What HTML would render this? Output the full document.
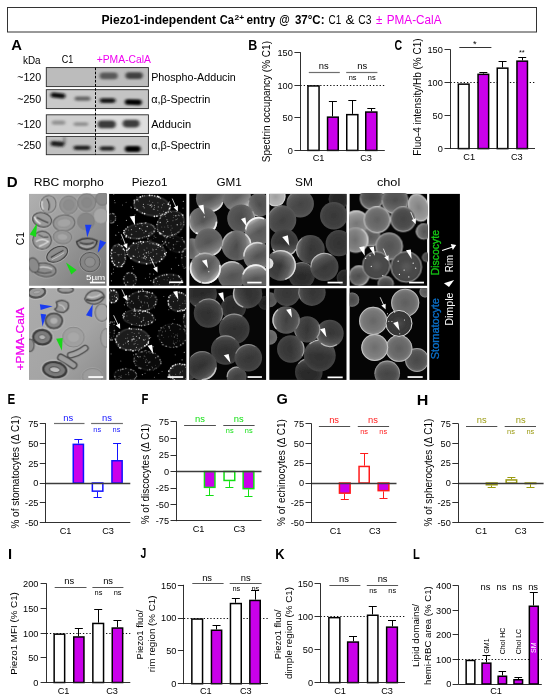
<!DOCTYPE html>
<html lang="en"><head><meta charset="utf-8"><title>Piezo1-independent Ca2+ entry</title>
<style>
html,body{margin:0;padding:0;background:#fff;}
svg{display:block;font-family:'Liberation Sans',sans-serif;}
svg text{font-family:'Liberation Sans',sans-serif;}
</style></head>
<body>
<svg width="550" height="700" viewBox="0 0 550 700">
<rect x="0" y="0" width="550" height="700" fill="#fff"/>
<rect x="7.50" y="7.50" width="529.00" height="24.50" fill="#fff" stroke="#333" stroke-width="1"/>
<text x="101.50" y="24.30" font-size="12.2" text-anchor="start" fill="#000" font-weight="bold" textLength="114.50" lengthAdjust="spacingAndGlyphs">Piezo1-independent</text>
<text x="219.80" y="24.30" font-size="12.2" text-anchor="start" fill="#000" font-weight="bold" textLength="14.20" lengthAdjust="spacingAndGlyphs">Ca</text>
<text x="234.60" y="19.70" font-size="7.6" text-anchor="start" fill="#000" font-weight="bold" textLength="9.60" lengthAdjust="spacingAndGlyphs">2+</text>
<text x="246.50" y="24.30" font-size="12.2" text-anchor="start" fill="#000" font-weight="bold" textLength="28.80" lengthAdjust="spacingAndGlyphs">entry</text>
<text x="279.20" y="24.30" font-size="12.2" text-anchor="start" fill="#000" font-weight="bold" textLength="10.50" lengthAdjust="spacingAndGlyphs">@</text>
<text x="294.90" y="24.30" font-size="12.2" text-anchor="start" fill="#000" font-weight="bold" textLength="29.60" lengthAdjust="spacingAndGlyphs">37°C:</text>
<text x="328.50" y="24.30" font-size="12.2" text-anchor="start" fill="#000" textLength="12.70" lengthAdjust="spacingAndGlyphs">C1</text>
<text x="345.50" y="24.30" font-size="12.2" text-anchor="start" fill="#000" textLength="9.00" lengthAdjust="spacingAndGlyphs">&amp;</text>
<text x="358.30" y="24.30" font-size="12.2" text-anchor="start" fill="#000" textLength="13.20" lengthAdjust="spacingAndGlyphs">C3</text>
<text x="376.10" y="24.30" font-size="12.2" text-anchor="start" fill="#f000f0" textLength="6.30" lengthAdjust="spacingAndGlyphs">±</text>
<text x="386.80" y="24.30" font-size="12.2" text-anchor="start" fill="#f000f0" textLength="54.70" lengthAdjust="spacingAndGlyphs">PMA-CalA</text>
<text x="11.20" y="49.70" font-size="14.7" text-anchor="start" fill="#000" font-weight="bold" textLength="10.70" lengthAdjust="spacingAndGlyphs">A</text>
<text x="248.30" y="49.50" font-size="14.7" text-anchor="start" fill="#000" font-weight="bold" textLength="9.00" lengthAdjust="spacingAndGlyphs">B</text>
<text x="394.50" y="49.50" font-size="14.7" text-anchor="start" fill="#000" font-weight="bold" textLength="7.60" lengthAdjust="spacingAndGlyphs">C</text>
<text x="6.80" y="186.90" font-size="14.7" text-anchor="start" fill="#000" font-weight="bold" textLength="10.90" lengthAdjust="spacingAndGlyphs">D</text>
<text x="7.50" y="403.70" font-size="14.7" text-anchor="start" fill="#000" font-weight="bold" textLength="7.70" lengthAdjust="spacingAndGlyphs">E</text>
<text x="141.40" y="403.70" font-size="14.7" text-anchor="start" fill="#000" font-weight="bold" textLength="6.90" lengthAdjust="spacingAndGlyphs">F</text>
<text x="276.60" y="404.00" font-size="14.7" text-anchor="start" fill="#000" font-weight="bold" textLength="11.30" lengthAdjust="spacingAndGlyphs">G</text>
<text x="416.80" y="404.50" font-size="14.7" text-anchor="start" fill="#000" font-weight="bold" textLength="11.60" lengthAdjust="spacingAndGlyphs">H</text>
<text x="7.90" y="558.80" font-size="14.7" text-anchor="start" fill="#000" font-weight="bold">I</text>
<text x="140.60" y="558.40" font-size="14.7" text-anchor="start" fill="#000" font-weight="bold" textLength="5.80" lengthAdjust="spacingAndGlyphs">J</text>
<text x="275.30" y="559.00" font-size="14.7" text-anchor="start" fill="#000" font-weight="bold" textLength="9.30" lengthAdjust="spacingAndGlyphs">K</text>
<text x="413.00" y="559.00" font-size="14.7" text-anchor="start" fill="#000" font-weight="bold" textLength="6.80" lengthAdjust="spacingAndGlyphs">L</text>
<defs><filter id="bl1" x="-30%" y="-60%" width="160%" height="220%"><feGaussianBlur stdDeviation="1.5 1.1"/></filter><filter id="bl05" x="-30%" y="-60%" width="160%" height="220%"><feGaussianBlur stdDeviation="0.7"/></filter></defs>
<text x="23.00" y="64.40" font-size="10.4" text-anchor="start" fill="#000" textLength="17.60" lengthAdjust="spacingAndGlyphs">kDa</text>
<text x="61.80" y="62.60" font-size="10.4" text-anchor="start" fill="#000" textLength="11.50" lengthAdjust="spacingAndGlyphs">C1</text>
<text x="96.70" y="62.60" font-size="10.4" text-anchor="start" fill="#f000f0" textLength="54.30" lengthAdjust="spacingAndGlyphs">+PMA-CalA</text>
<clipPath id="cb0"><rect x="46.3" y="67.6" width="102.10" height="19.00"/></clipPath>
<rect x="46.30" y="67.60" width="102.10" height="19.00" fill="#bcbcbc" stroke="none" stroke-width="1"/>
<g clip-path="url(#cb0)">
<rect x="96.00" y="67.60" width="52.40" height="19.00" fill="#bcbcbc" stroke="none" stroke-width="1"/>
<g filter="url(#bl1)">
<rect x="99.70" y="72.60" width="18.00" height="6.60" rx="3.30" fill="#4c4c4c" opacity="0.9"/>
<rect x="125.50" y="72.20" width="17.30" height="6.80" rx="3.40" fill="#3a3a3a" opacity="0.95"/>
</g></g>
<rect x="46.30" y="67.60" width="102.10" height="19.00" fill="none" stroke="#2a2a2a" stroke-width="0.9"/>
<text x="17.20" y="80.70" font-size="10.4" text-anchor="start" fill="#000" textLength="24.00" lengthAdjust="spacingAndGlyphs">~120</text>
<text x="151.20" y="80.50" font-size="10.4" text-anchor="start" fill="#000" textLength="84.60" lengthAdjust="spacingAndGlyphs">Phospho-Adducin</text>
<clipPath id="cb1"><rect x="46.3" y="89.7" width="102.10" height="18.90"/></clipPath>
<rect x="46.30" y="89.70" width="102.10" height="18.90" fill="#c9c9c9" stroke="none" stroke-width="1"/>
<g clip-path="url(#cb1)">
<rect x="96.00" y="89.70" width="52.40" height="18.90" fill="#c4c4c4" stroke="none" stroke-width="1"/>
<g filter="url(#bl1)">
<rect x="50.60" y="92.90" width="14.80" height="5.10" rx="2.55" fill="#101010" opacity="1" transform="rotate(6 58.0 95.4)"/>
<rect x="74.60" y="96.60" width="15.90" height="4.10" rx="2.05" fill="#5a5a5a" opacity="0.9"/>
<rect x="99.70" y="98.20" width="15.90" height="4.80" rx="2.40" fill="#161616" opacity="1"/>
<rect x="124.80" y="99.40" width="17.00" height="5.60" rx="2.80" fill="#050505" opacity="1" transform="rotate(2 133.3 102.2)"/>
</g></g>
<rect x="46.30" y="89.70" width="102.10" height="18.90" fill="none" stroke="#2a2a2a" stroke-width="0.9"/>
<text x="17.20" y="102.75" font-size="10.4" text-anchor="start" fill="#000" textLength="24.00" lengthAdjust="spacingAndGlyphs">~250</text>
<text x="151.20" y="102.55" font-size="10.4" text-anchor="start" fill="#000" textLength="59.20" lengthAdjust="spacingAndGlyphs">α,β-Spectrin</text>
<clipPath id="cb2"><rect x="46.3" y="114.8" width="102.10" height="18.80"/></clipPath>
<rect x="46.30" y="114.80" width="102.10" height="18.80" fill="#d0d0d0" stroke="none" stroke-width="1"/>
<g clip-path="url(#cb2)">
<rect x="96.00" y="114.80" width="52.40" height="18.80" fill="#dedede" stroke="none" stroke-width="1"/>
<g filter="url(#bl1)">
<rect x="51.70" y="120.60" width="13.70" height="4.10" rx="2.05" fill="#8c8c8c" opacity="0.9"/>
<rect x="73.50" y="122.20" width="14.80" height="3.70" rx="1.85" fill="#8a8a8a" opacity="0.9"/>
<rect x="97.60" y="120.40" width="18.20" height="7.80" rx="3.90" fill="#3a3a3a" opacity="1"/>
<rect x="122.60" y="119.80" width="17.00" height="7.60" rx="3.80" fill="#3c3c3c" opacity="1"/>
</g></g>
<rect x="46.30" y="114.80" width="102.10" height="18.80" fill="none" stroke="#2a2a2a" stroke-width="0.9"/>
<text x="17.20" y="127.80" font-size="10.4" text-anchor="start" fill="#000" textLength="24.00" lengthAdjust="spacingAndGlyphs">~120</text>
<text x="151.20" y="127.60" font-size="10.4" text-anchor="start" fill="#000" textLength="40.00" lengthAdjust="spacingAndGlyphs">Adducin</text>
<clipPath id="cb3"><rect x="46.3" y="136.4" width="102.10" height="18.30"/></clipPath>
<rect x="46.30" y="136.40" width="102.10" height="18.30" fill="#c0c0c0" stroke="none" stroke-width="1"/>
<g clip-path="url(#cb3)">
<rect x="96.00" y="136.40" width="52.40" height="18.30" fill="#c6c6c6" stroke="none" stroke-width="1"/>
<g filter="url(#bl1)">
<rect x="50.60" y="141.30" width="13.70" height="5.10" rx="2.55" fill="#1a1a1a" opacity="1" transform="rotate(5 57.4 143.8)"/>
<rect x="73.50" y="145.70" width="17.00" height="4.30" rx="2.15" fill="#1c1c1c" opacity="1"/>
<rect x="99.70" y="146.40" width="14.80" height="4.00" rx="2.00" fill="#1c1c1c" opacity="1"/>
<rect x="124.80" y="146.10" width="15.90" height="5.90" rx="2.95" fill="#060606" opacity="1"/>
<rect x="63.6" y="137" width="1.6" height="7" fill="#333" opacity="0.8"/>
</g></g>
<rect x="46.30" y="136.40" width="102.10" height="18.30" fill="none" stroke="#2a2a2a" stroke-width="0.9"/>
<text x="17.20" y="149.15" font-size="10.4" text-anchor="start" fill="#000" textLength="24.00" lengthAdjust="spacingAndGlyphs">~250</text>
<text x="151.20" y="148.95" font-size="10.4" text-anchor="start" fill="#000" textLength="59.20" lengthAdjust="spacingAndGlyphs">α,β-Spectrin</text>
<line x1="95.50" y1="67.60" x2="95.50" y2="154.70" stroke="#000" stroke-width="1.0" stroke-dasharray="2.6 1.5"/>
<text x="33.80" y="186.40" font-size="11.2" text-anchor="start" fill="#000" textLength="70.00" lengthAdjust="spacingAndGlyphs">RBC morpho</text>
<text x="131.80" y="186.00" font-size="11.2" text-anchor="start" fill="#000" textLength="35.60" lengthAdjust="spacingAndGlyphs">Piezo1</text>
<text x="216.40" y="186.00" font-size="11.2" text-anchor="start" fill="#000" textLength="25.40" lengthAdjust="spacingAndGlyphs">GM1</text>
<text x="295.00" y="186.00" font-size="11.2" text-anchor="start" fill="#000" textLength="17.80" lengthAdjust="spacingAndGlyphs">SM</text>
<text x="376.90" y="186.00" font-size="11.2" text-anchor="start" fill="#000" textLength="23.40" lengthAdjust="spacingAndGlyphs">chol</text>
<text x="23.60" y="238.60" font-size="11.6" text-anchor="middle" fill="#000" transform="rotate(-90 23.60 238.60)" textLength="13.20" lengthAdjust="spacingAndGlyphs">C1</text>
<text x="23.60" y="338.90" font-size="11.6" text-anchor="middle" fill="#f000f0" transform="rotate(-90 23.60 338.90)" textLength="63.00" lengthAdjust="spacingAndGlyphs" stroke="#f000f0" stroke-width="0.25">+PMA-CalA</text>
<rect x="429.30" y="193.90" width="30.60" height="186.10" fill="#000" stroke="none" stroke-width="1"/>
<text x="439.00" y="275.30" font-size="10.6" text-anchor="start" fill="#14c814" transform="rotate(-90 439.00 275.30)" textLength="45.30" lengthAdjust="spacingAndGlyphs" stroke="#14c814" stroke-width="0.35">Discocyte</text>
<text x="439.00" y="359.20" font-size="10.6" text-anchor="start" fill="#0a6fc8" transform="rotate(-90 439.00 359.20)" textLength="61.00" lengthAdjust="spacingAndGlyphs" stroke="#0a6fc8" stroke-width="0.35">Stomatocyte</text>
<text x="452.80" y="272.20" font-size="10.4" text-anchor="start" fill="#fff" transform="rotate(-90 452.80 272.20)" textLength="17.20" lengthAdjust="spacingAndGlyphs">Rim</text>
<text x="452.80" y="325.80" font-size="10.4" text-anchor="start" fill="#fff" transform="rotate(-90 452.80 325.80)" textLength="33.40" lengthAdjust="spacingAndGlyphs">Dimple</text>
<line x1="442.10" y1="250.60" x2="452.60" y2="247.00" stroke="#fff" stroke-width="1.1"/>
<polygon points="456.2,245.0 450.8,244.0 452.8,250.0" fill="#fff"/>
<polygon points="443.9,283.3 449.0,286.9 454.1,279.9" fill="#fff"/>
<defs><filter id="fb3" x="-20%" y="-20%" width="140%" height="140%"><feGaussianBlur stdDeviation="4.3"/></filter><filter id="fb5" x="-20%" y="-20%" width="140%" height="140%"><feGaussianBlur stdDeviation="5"/></filter><filter id="fb2" x="-20%" y="-20%" width="140%" height="140%"><feGaussianBlur stdDeviation="2"/></filter><filter id="fb8" x="-20%" y="-20%" width="140%" height="140%"><feGaussianBlur stdDeviation="7"/></filter><radialGradient id="gc"><stop offset="0" stop-color="#000" stop-opacity="0.16"/><stop offset="0.6" stop-color="#000" stop-opacity="0.04"/><stop offset="0.88" stop-color="#fff" stop-opacity="0.10"/><stop offset="1" stop-color="#fff" stop-opacity="0.28"/></radialGradient><linearGradient id="lg" x1="0" y1="0" x2="1" y2="0"><stop offset="0" stop-color="#fff" stop-opacity="0"/><stop offset="0.5" stop-color="#fff" stop-opacity="0"/><stop offset="0.8" stop-color="#fff" stop-opacity="0.22"/><stop offset="0.93" stop-color="#fff" stop-opacity="0.5"/><stop offset="1" stop-color="#fff" stop-opacity="0.8"/></linearGradient><radialGradient id="gs"><stop offset="0" stop-color="#000" stop-opacity="0.14"/><stop offset="0.65" stop-color="#000" stop-opacity="0.03"/><stop offset="1" stop-color="#fff" stop-opacity="0.07"/></radialGradient><radialGradient id="gd"><stop offset="0" stop-color="#fff" stop-opacity="0.10"/><stop offset="0.55" stop-color="#fff" stop-opacity="0.0"/><stop offset="0.85" stop-color="#000" stop-opacity="0.04"/><stop offset="1" stop-color="#fff" stop-opacity="0.05"/></radialGradient><linearGradient id="bg1" x1="0" y1="0" x2="1" y2="1"><stop offset="0" stop-color="#b0b0b0"/><stop offset="0.5" stop-color="#989898"/><stop offset="1" stop-color="#767676"/></linearGradient><linearGradient id="bg2" x1="0" y1="0" x2="1" y2="1"><stop offset="0" stop-color="#acacac"/><stop offset="0.6" stop-color="#a4a4a4"/><stop offset="1" stop-color="#8c8c8c"/></linearGradient></defs>
<clipPath id="cp00"><rect x="29.0" y="193.9" width="77.50" height="91.90"/></clipPath>
<rect x="29.00" y="193.90" width="77.50" height="91.90" fill="url(#bg1)" stroke="none" stroke-width="1"/>
<g clip-path="url(#cp00)"><g transform="translate(25 190) scale(0.15637)">
<g filter="url(#fb5)">
<ellipse cx="150" cy="90" rx="50" ry="56" fill="#a2a2a2" stroke="#5c5c5c" stroke-width="6" transform="rotate(10 150 90)"/>
<ellipse cx="150" cy="90" rx="56" ry="62" fill="none" stroke="#e0e0e0" stroke-opacity="0.5" stroke-width="4" transform="rotate(10 150 90)"/>
<path d="M140 55 Q165 90 150 130" fill="none" stroke="#3c3c3c" stroke-width="7"/>
<path d="M112 70 Q100 95 118 125" fill="none" stroke="#e2e2e2" stroke-width="9"/>
<ellipse cx="280" cy="95" rx="58" ry="58" fill="#939393" stroke="#777" stroke-width="6"/>
<ellipse cx="280" cy="95" rx="64" ry="64" fill="none" stroke="#e0e0e0" stroke-opacity="0.3" stroke-width="4"/>
<ellipse cx="280" cy="95" rx="34" ry="34" fill="#8c8c8c" stroke="#858585" stroke-width="3"/>
<ellipse cx="395" cy="80" rx="58" ry="58" fill="#8e8e8e" stroke="#747474" stroke-width="6"/>
<ellipse cx="395" cy="80" rx="64" ry="64" fill="none" stroke="#e0e0e0" stroke-opacity="0.3" stroke-width="4"/>
<ellipse cx="395" cy="80" rx="32" ry="32" fill="#888" stroke="#808080" stroke-width="3"/>
<ellipse cx="495" cy="55" rx="42" ry="42" fill="#8a8a8a" stroke="#707070" stroke-width="5"/>
<ellipse cx="485" cy="165" rx="48" ry="50" fill="#a8a8a8" stroke="#8a8a8a" stroke-width="4"/>
<ellipse cx="110" cy="190" rx="62" ry="46" fill="#9a9a9a" stroke="#3e3e3e" stroke-width="7" transform="rotate(15 110 190)"/>
<ellipse cx="110" cy="190" rx="69" ry="53" fill="none" stroke="#e0e0e0" stroke-opacity="0.5" stroke-width="4" transform="rotate(15 110 190)"/>
<path d="M75 175 Q110 195 150 210" fill="none" stroke="#3a3a3a" stroke-width="7"/>
<path d="M60 170 Q70 200 100 215" fill="none" stroke="#e8e8e8" stroke-width="9"/>
<ellipse cx="250" cy="210" rx="70" ry="52" fill="#989898" stroke="#666" stroke-width="7" transform="rotate(-5 250 210)"/>
<ellipse cx="250" cy="210" rx="77" ry="59" fill="none" stroke="#e0e0e0" stroke-opacity="0.3" stroke-width="4" transform="rotate(-5 250 210)"/>
<ellipse cx="250" cy="210" rx="45" ry="28" fill="#a4a4a4" stroke="#858585" stroke-width="3" transform="rotate(-5 250 210)"/>
<ellipse cx="390" cy="200" rx="54" ry="54" fill="#868686" stroke="#7a7a7a" stroke-width="4"/>
<ellipse cx="110" cy="320" rx="60" ry="58" fill="#9c9c9c" stroke="#484848" stroke-width="7"/>
<ellipse cx="110" cy="320" rx="67" ry="65" fill="none" stroke="#e0e0e0" stroke-opacity="0.5" stroke-width="4"/>
<path d="M70 330 Q110 300 150 330 Q120 350 90 360" fill="none" stroke="#e0e0e0" stroke-width="9"/>
<path d="M85 285 Q120 310 150 300" fill="none" stroke="#444" stroke-width="6"/>
<ellipse cx="240" cy="300" rx="60" ry="44" fill="#969696" stroke="#707070" stroke-width="6" transform="rotate(5 240 300)"/>
<ellipse cx="240" cy="300" rx="66" ry="50" fill="none" stroke="#e0e0e0" stroke-opacity="0.3" stroke-width="4" transform="rotate(5 240 300)"/>
<ellipse cx="240" cy="300" rx="34" ry="22" fill="#a6a6a6" stroke="#8a8a8a" stroke-width="3" transform="rotate(5 240 300)"/>
<path d="M330 330 Q395 290 462 325 Q455 375 395 380 Q335 375 330 330Z" fill="#8a8a8a" stroke="#262626" stroke-width="8"/>
<path d="M350 335 Q395 355 440 335" fill="none" stroke="#2c2c2c" stroke-width="7"/>
<path d="M352 352 Q395 375 438 352" fill="none" stroke="#c8c8c8" stroke-width="6"/>
<ellipse cx="205" cy="410" rx="72" ry="44" fill="#8e8e8e" stroke="#3c3c3c" stroke-width="7" transform="rotate(-28 205 410)"/>
<ellipse cx="205" cy="410" rx="79" ry="51" fill="none" stroke="#e0e0e0" stroke-opacity="0.45" stroke-width="4" transform="rotate(-28 205 410)"/>
<path d="M165 430 Q205 405 245 385" fill="none" stroke="#3a3a3a" stroke-width="7"/>
<path d="M170 445 Q215 425 250 400" fill="none" stroke="#cfcfcf" stroke-width="6"/>
<ellipse cx="415" cy="460" rx="64" ry="62" fill="#858585" stroke="#4e4e4e" stroke-width="6"/>
<ellipse cx="415" cy="460" rx="70" ry="68" fill="none" stroke="#e0e0e0" stroke-opacity="0.35" stroke-width="4"/>
<ellipse cx="415" cy="460" rx="34" ry="32" fill="#8f8f8f" stroke="#6c6c6c" stroke-width="6"/>
<ellipse cx="125" cy="510" rx="75" ry="44" fill="#8c8c8c" stroke="#4a4a4a" stroke-width="7" transform="rotate(8 125 510)"/>
<ellipse cx="125" cy="510" rx="82" ry="51" fill="none" stroke="#e0e0e0" stroke-opacity="0.4" stroke-width="4" transform="rotate(8 125 510)"/>
<path d="M75 500 Q120 480 175 505" fill="none" stroke="#d8d8d8" stroke-width="8"/>
<path d="M80 525 Q125 540 170 525" fill="none" stroke="#444" stroke-width="6"/>
<ellipse cx="55" cy="480" rx="34" ry="48" fill="#8a8a8a" stroke="#4c4c4c" stroke-width="6" transform="rotate(-20 55 480)"/>
</g>
<polygon points="30,285 70,300 77,213" fill="#18d818"/>
<polygon points="330,512 296,541 262,464" fill="#18d818"/>
<polygon points="384,222 426,222 398,302" fill="#1a3cf0"/>
<polygon points="479,320 519,336 465,401" fill="#1a3cf0"/>
<text x="452" y="576" font-size="46" text-anchor="middle" fill="#fff" textLength="124" lengthAdjust="spacingAndGlyphs">5µm</text>
<rect x="415" y="586.5" width="97" height="11" fill="#fff"/>
</g></g>
<clipPath id="cp01"><rect x="109.1" y="193.9" width="77.30" height="91.90"/></clipPath>
<rect x="109.10" y="193.90" width="77.30" height="91.90" fill="#000" stroke="none" stroke-width="1"/>
<g clip-path="url(#cp01)"><g transform="translate(105 190) scale(0.15637)">
<g filter="url(#fb5)">
<ellipse cx="300" cy="100" rx="116" ry="64" fill="#fff" fill-opacity="0.110" stroke="#fff" stroke-opacity="0.160" stroke-width="10" transform="rotate(8 300 100)"/>
<ellipse cx="420" cy="215" rx="92" ry="74" fill="#fff" fill-opacity="0.089" stroke="#fff" stroke-opacity="0.130" stroke-width="10" transform="rotate(-35 420 215)"/>
<ellipse cx="222" cy="262" rx="100" ry="48" fill="#fff" fill-opacity="0.099" stroke="#fff" stroke-opacity="0.144" stroke-width="10" transform="rotate(-8 222 262)"/>
<ellipse cx="265" cy="400" rx="122" ry="70" fill="#fff" fill-opacity="0.110" stroke="#fff" stroke-opacity="0.160" stroke-width="10" transform="rotate(4 265 400)"/>
<ellipse cx="85" cy="420" rx="46" ry="72" fill="#fff" fill-opacity="0.099" stroke="#fff" stroke-opacity="0.144" stroke-width="10" transform="rotate(-5 85 420)"/>
<ellipse cx="452" cy="345" rx="72" ry="48" fill="#fff" fill-opacity="0.040" stroke="#fff" stroke-opacity="0.058" stroke-width="10" transform="rotate(30 452 345)"/>
<ellipse cx="400" cy="585" rx="92" ry="46" fill="#fff" fill-opacity="0.070" stroke="#fff" stroke-opacity="0.102" stroke-width="10" transform="rotate(-5 400 585)"/>
<ellipse cx="160" cy="575" rx="40" ry="46" fill="#fff" fill-opacity="0.054" stroke="#fff" stroke-opacity="0.078" stroke-width="10" transform="rotate(0 160 575)"/>
<ellipse cx="42" cy="180" rx="26" ry="30" fill="#fff" fill-opacity="0.054" stroke="#fff" stroke-opacity="0.078" stroke-width="10" transform="rotate(0 42 180)"/>
<ellipse cx="510" cy="440" rx="20" ry="60" fill="#fff" fill-opacity="0.028" stroke="#fff" stroke-opacity="0.040" stroke-width="10" transform="rotate(0 510 440)"/>
<ellipse cx="330" cy="310" rx="60" ry="40" fill="#fff" fill-opacity="0.028" stroke="#fff" stroke-opacity="0.040" stroke-width="10" transform="rotate(20 330 310)"/>
</g>
<g filter="url(#fb2)">
<path d="M189 116h0M209 62h0M235 343h0M177 490h0M287 537h0M501 73h0M493 304h0M169 253h0M137 195h0M69 289h0M168 113h0M368 328h0M471 482h0M246 92h0M293 580h0M42 537h0M265 431h0M41 581h0M401 201h0M408 338h0M425 504h0" stroke="#9a9a9a" stroke-width="8" stroke-linecap="round" fill="none"/>
<path d="M54 506h0M135 78h0M64 81h0M59 357h0M339 367h0M313 259h0M53 528h0M181 503h0M80 360h0M212 347h0M307 388h0M363 277h0M258 565h0M412 76h0M250 382h0M88 271h0M104 313h0M311 538h0M197 232h0M314 294h0M62 454h0M347 606h0M200 575h0M112 96h0M151 256h0M166 108h0M453 190h0M513 425h0M499 116h0M104 411h0M268 371h0M211 358h0M351 459h0M421 256h0M223 308h0M61 67h0M56 28h0M214 397h0M325 304h0M446 606h0M265 209h0M80 227h0M207 430h0M453 433h0M284 557h0M192 158h0M424 144h0M204 45h0M417 303h0" stroke="#707070" stroke-width="7" stroke-linecap="round" fill="none"/>
<g opacity="0.92">
<path d="M409 126h0M192 118h0M187 85h0M252 37h0M408 82h0M419 110h0M311 123h0M341 108h0M299 104h0M367 95h0M300 102h0M316 98h0M246 106h0M251 114h0" stroke="#9a9a9a" stroke-width="8" stroke-linecap="round" fill="none"/>
<path d="M383 156h0M366 155h0M358 163h0M239 147h0M188 76h0M187 66h0M204 62h0M240 39h0M301 35h0M318 39h0M355 52h0M418 97h0M289 98h0" stroke="#d8d8d8" stroke-width="9.5" stroke-linecap="round" fill="none"/>
<path d="M413 118h0M332 167h0M316 168h0M253 151h0M205 127h0M226 44h0M285 35h0M337 41h0M345 45h0M405 91h0" stroke="#ffffff" stroke-width="11" stroke-linecap="round" fill="none"/>
<path d="M244 106h0M362 113h0M331 50h0M296 110h0M377 85h0M350 150h0M297 92h0M284 71h0M374 136h0M338 82h0M213 70h0M338 130h0M317 111h0M309 123h0M305 80h0M316 124h0M275 92h0" stroke="#707070" stroke-width="7" stroke-linecap="round" fill="none"/>
</g>
<g opacity="0.78">
<path d="M499 172h0M503 205h0M504 222h0M486 252h0M473 267h0M466 271h0M454 281h0M444 284h0M431 286h0M387 292h0M335 252h0M355 172h0M420 136h0M456 136h0M490 154h0M469 161h0M396 190h0" stroke="#9a9a9a" stroke-width="8" stroke-linecap="round" fill="none"/>
<path d="M401 297h0M379 294h0M350 274h0M338 263h0M332 220h0M337 204h0M352 180h0M405 141h0M373 265h0M462 222h0M453 165h0M353 208h0" stroke="#d8d8d8" stroke-width="9.5" stroke-linecap="round" fill="none"/>
<path d="M497 160h0M354 279h0M390 145h0" stroke="#ffffff" stroke-width="11" stroke-linecap="round" fill="none"/>
<path d="M382 237h0M488 217h0M477 164h0M402 236h0M434 197h0M482 222h0M440 162h0M437 176h0M458 189h0M423 229h0M426 274h0M388 168h0M429 244h0M463 184h0M405 238h0M485 210h0M435 194h0M402 226h0M363 237h0M394 210h0" stroke="#707070" stroke-width="7" stroke-linecap="round" fill="none"/>
</g>
<g opacity="0.85">
<path d="M320 246h0M301 279h0M266 298h0M240 306h0M204 311h0M152 302h0M125 284h0M128 269h0M210 218h0M224 214h0M295 223h0M306 228h0M312 236h0" stroke="#9a9a9a" stroke-width="8" stroke-linecap="round" fill="none"/>
<path d="M314 266h0M217 312h0M163 307h0M134 250h0M145 237h0M235 214h0M258 211h0M222 246h0M170 285h0M261 264h0M270 233h0" stroke="#d8d8d8" stroke-width="9.5" stroke-linecap="round" fill="none"/>
<path d="M280 293h0M135 299h0M137 291h0M120 274h0M122 259h0" stroke="#ffffff" stroke-width="11" stroke-linecap="round" fill="none"/>
<path d="M168 285h0M238 228h0M251 298h0M232 249h0M199 265h0M249 274h0M240 258h0" stroke="#707070" stroke-width="7" stroke-linecap="round" fill="none"/>
</g>
<g opacity="0.92">
<path d="M377 424h0M327 466h0M291 466h0M138 396h0M201 342h0M215 334h0M273 329h0M371 365h0M260 441h0M245 411h0M331 408h0M278 396h0M310 425h0M327 380h0M186 425h0" stroke="#9a9a9a" stroke-width="8" stroke-linecap="round" fill="none"/>
<path d="M387 415h0M349 457h0M304 464h0M142 412h0M149 380h0M331 346h0M354 362h0M392 400h0M255 423h0M181 422h0M265 401h0M249 435h0" stroke="#d8d8d8" stroke-width="9.5" stroke-linecap="round" fill="none"/>
<path d="M382 407h0M362 442h0M266 472h0M219 460h0M166 437h0M140 385h0M154 373h0M182 340h0M228 330h0M245 333h0M342 352h0" stroke="#ffffff" stroke-width="11" stroke-linecap="round" fill="none"/>
<path d="M304 378h0M287 343h0M207 372h0M249 408h0M266 402h0M254 385h0M287 451h0M281 405h0M195 382h0M304 442h0M237 434h0M182 419h0M309 381h0M221 423h0M294 399h0M365 386h0M359 426h0M309 446h0M277 417h0" stroke="#707070" stroke-width="7" stroke-linecap="round" fill="none"/>
</g>
<g opacity="0.85">
<path d="M129 415h0M132 442h0M126 460h0M98 490h0M37 420h0M38 397h0M65 357h0M85 346h0M84 414h0" stroke="#9a9a9a" stroke-width="8" stroke-linecap="round" fill="none"/>
<path d="M128 434h0M120 470h0M112 476h0M79 490h0M54 468h0M42 406h0M91 350h0M104 357h0M110 359h0M125 385h0M88 464h0" stroke="#d8d8d8" stroke-width="9.5" stroke-linecap="round" fill="none"/>
<path d="M107 488h0M61 479h0M46 457h0M43 435h0M43 384h0M118 378h0" stroke="#ffffff" stroke-width="11" stroke-linecap="round" fill="none"/>
<path d="M58 399h0M88 420h0M68 400h0M91 412h0" stroke="#707070" stroke-width="7" stroke-linecap="round" fill="none"/>
</g>
<g opacity="0.46">
<path d="M385 337h0M497 318h0M508 337h0M436 309h0M483 360h0" stroke="#9a9a9a" stroke-width="8" stroke-linecap="round" fill="none"/>
<path d="M512 376h0M501 394h0M418 382h0M393 351h0M386 332h0M439 376h0M460 330h0M438 350h0" stroke="#d8d8d8" stroke-width="9.5" stroke-linecap="round" fill="none"/>
<path d="M475 397h0M394 303h0M428 289h0M505 329h0M520 374h0" stroke="#ffffff" stroke-width="11" stroke-linecap="round" fill="none"/>
<path d="M435 366h0M472 328h0M435 298h0M454 345h0" stroke="#707070" stroke-width="7" stroke-linecap="round" fill="none"/>
</g>
<g opacity="0.66">
<path d="M478 599h0M469 607h0M388 630h0M344 622h0M311 579h0M313 572h0M347 554h0M485 567h0M336 584h0M442 611h0M412 598h0" stroke="#9a9a9a" stroke-width="8" stroke-linecap="round" fill="none"/>
<path d="M488 584h0M332 619h0M367 547h0M379 543h0M438 543h0M470 548h0" stroke="#d8d8d8" stroke-width="9.5" stroke-linecap="round" fill="none"/>
<path d="M491 579h0M447 623h0M418 630h0M404 632h0M350 627h0M311 589h0M326 565h0M395 541h0M475 555h0" stroke="#ffffff" stroke-width="11" stroke-linecap="round" fill="none"/>
<path d="M437 568h0M418 575h0M378 573h0M398 575h0M405 559h0M330 600h0" stroke="#707070" stroke-width="7" stroke-linecap="round" fill="none"/>
</g>
<g opacity="0.55">
<path d="M198 572h0M194 598h0M153 621h0" stroke="#9a9a9a" stroke-width="8" stroke-linecap="round" fill="none"/>
<path d="M124 595h0M123 554h0M152 529h0M185 541h0M193 550h0M145 590h0" stroke="#d8d8d8" stroke-width="9.5" stroke-linecap="round" fill="none"/>
<path d="M182 610h0M160 622h0M133 608h0M119 569h0M142 533h0M172 532h0M198 559h0" stroke="#ffffff" stroke-width="11" stroke-linecap="round" fill="none"/>
<path d="M181 581h0" stroke="#707070" stroke-width="7" stroke-linecap="round" fill="none"/>
</g>
<g opacity="0.55">
<path d="M68 184h0M19 168h0M28 155h0M36 152h0" stroke="#9a9a9a" stroke-width="8" stroke-linecap="round" fill="none"/>
<path d="M66 194h0M56 205h0M50 209h0M39 211h0M17 184h0M50 151h0M57 154h0M67 169h0" stroke="#d8d8d8" stroke-width="9.5" stroke-linecap="round" fill="none"/>
<path d="M38 196h0" stroke="#707070" stroke-width="7" stroke-linecap="round" fill="none"/>
</g>
<g opacity="0.38">
<path d="M531 438h0M529 455h0M523 484h0M510 502h0M504 499h0M500 488h0M495 478h0M525 403h0" stroke="#9a9a9a" stroke-width="8" stroke-linecap="round" fill="none"/>
<path d="M518 496h0M491 416h0M499 389h0M505 379h0" stroke="#d8d8d8" stroke-width="9.5" stroke-linecap="round" fill="none"/>
<path d="M491 433h0M495 396h0M529 422h0" stroke="#ffffff" stroke-width="11" stroke-linecap="round" fill="none"/>
<path d="M525 442h0" stroke="#707070" stroke-width="7" stroke-linecap="round" fill="none"/>
</g>
<g opacity="0.38">
<path d="M319 350h0M284 326h0M282 276h0M295 270h0M373 290h0M381 299h0M348 282h0M294 320h0" stroke="#9a9a9a" stroke-width="8" stroke-linecap="round" fill="none"/>
<path d="M388 332h0M377 340h0M376 345h0M365 352h0M336 354h0M362 281h0" stroke="#d8d8d8" stroke-width="9.5" stroke-linecap="round" fill="none"/>
<path d="M344 350h0M307 343h0M274 312h0M348 274h0" stroke="#ffffff" stroke-width="11" stroke-linecap="round" fill="none"/>
<path d="M316 300h0M310 310h0" stroke="#707070" stroke-width="7" stroke-linecap="round" fill="none"/>
</g>
</g>
<line x1="430" y1="55" x2="453.9" y2="109.5" stroke="#fff" stroke-width="5"/>
<polygon points="438.6,111.9 466.1,99.8 466,137" fill="#fff"/>
<polygon points="158,170 191,165 192,226" fill="#fff"/>
<line x1="104" y1="283" x2="130.8" y2="349.2" stroke="#fff" stroke-width="5"/>
<polygon points="115.4,351.1 143.2,339.9 142,377" fill="#fff"/>
<line x1="290" y1="430" x2="323.1" y2="499.9" stroke="#fff" stroke-width="5"/>
<polygon points="307.9,502.7 335.0,489.9 336,527" fill="#fff"/>
<rect x="410" y="584.5" width="90" height="11" fill="#fff"/>
</g></g>
<clipPath id="cp02"><rect x="189.3" y="193.9" width="76.80" height="91.90"/></clipPath>
<rect x="189.30" y="193.90" width="76.80" height="91.90" fill="#050505" stroke="none" stroke-width="1"/>
<g clip-path="url(#cp02)"><g transform="translate(185 190) scale(0.15637)">
<g filter="url(#fb3)">
<ellipse cx="160" cy="52" rx="90" ry="90" fill="#5e5e5e"/>
<ellipse cx="160" cy="52" rx="90" ry="90" fill="url(#gs)"/>
<ellipse cx="160" cy="52" rx="90" ry="90" fill="url(#lg)" opacity="0.79" transform="rotate(65 160 52)"/>
<path d="M239.9 81.1A85.0 85.0 0 0 1 130.9 131.9" fill="none" stroke="#fff" stroke-opacity="0.61" stroke-width="10" stroke-linecap="round"/>
<ellipse cx="332" cy="48" rx="90" ry="90" fill="#6a6a6a"/>
<ellipse cx="332" cy="48" rx="90" ry="90" fill="url(#gs)"/>
<ellipse cx="332" cy="48" rx="90" ry="90" fill="url(#lg)" opacity="1.00" transform="rotate(55 332 48)"/>
<path d="M415.2 62.7A84.5 84.5 0 0 1 317.3 131.2" fill="none" stroke="#fff" stroke-opacity="0.77" stroke-width="11" stroke-linecap="round"/>
<ellipse cx="475" cy="95" rx="76" ry="76" fill="#5a5a5a"/>
<ellipse cx="475" cy="95" rx="76" ry="76" fill="url(#gs)"/>
<ellipse cx="475" cy="95" rx="76" ry="76" fill="url(#lg)" opacity="0.43" transform="rotate(150 475 95)"/>
<path d="M462.6 165.4A71.5 71.5 0 0 1 407.8 70.5" fill="none" stroke="#fff" stroke-opacity="0.33" stroke-width="9" stroke-linecap="round"/>
<ellipse cx="360" cy="182" rx="90" ry="90" fill="#565656"/>
<ellipse cx="360" cy="182" rx="90" ry="90" fill="url(#gs)"/>
<ellipse cx="360" cy="182" rx="90" ry="90" fill="url(#lg)" opacity="0.36" transform="rotate(5 360 182)"/>
<path d="M434.0 139.2A85.5 85.5 0 0 1 425.5 237.0" fill="none" stroke="#fff" stroke-opacity="0.28" stroke-width="9" stroke-linecap="round"/>
<ellipse cx="115" cy="200" rx="92" ry="92" fill="#606060"/>
<ellipse cx="115" cy="200" rx="92" ry="92" fill="url(#gs)"/>
<ellipse cx="115" cy="200" rx="92" ry="92" fill="url(#lg)" opacity="1.00" transform="rotate(62 115 200)"/>
<path d="M201.2 207.5A86.5 86.5 0 0 1 71.8 274.9" fill="none" stroke="#fff" stroke-opacity="0.83" stroke-width="11" stroke-linecap="round"/>
<ellipse cx="115" cy="200" rx="92" ry="92" fill="url(#lg)" opacity="0.43" transform="rotate(165 115 200)"/>
<path d="M58.8 267.0A87.5 87.5 0 0 1 32.8 170.1" fill="none" stroke="#fff" stroke-opacity="0.33" stroke-width="9" stroke-linecap="round"/>
<ellipse cx="472" cy="262" rx="90" ry="90" fill="#646464"/>
<ellipse cx="472" cy="262" rx="90" ry="90" fill="url(#gs)"/>
<ellipse cx="472" cy="262" rx="90" ry="90" fill="url(#lg)" opacity="1.00" transform="rotate(240 472 262)"/>
<path d="M388.8 247.3A84.5 84.5 0 0 1 500.9 182.6" fill="none" stroke="#fff" stroke-opacity="0.83" stroke-width="11" stroke-linecap="round"/>
<ellipse cx="45" cy="375" rx="66" ry="66" fill="#6a6a6a"/>
<ellipse cx="45" cy="375" rx="66" ry="66" fill="url(#gs)"/>
<ellipse cx="45" cy="375" rx="66" ry="66" fill="url(#lg)" opacity="0.86" transform="rotate(-10 45 375)"/>
<path d="M75.5 322.2A61.0 61.0 0 0 1 91.7 414.2" fill="none" stroke="#fff" stroke-opacity="0.66" stroke-width="10" stroke-linecap="round"/>
<ellipse cx="152" cy="335" rx="90" ry="90" fill="#626262"/>
<ellipse cx="152" cy="335" rx="90" ry="90" fill="url(#gs)"/>
<ellipse cx="152" cy="335" rx="90" ry="90" fill="url(#lg)" opacity="0.72" transform="rotate(65 152 335)"/>
<path d="M231.9 364.1A85.0 85.0 0 0 1 122.9 414.9" fill="none" stroke="#fff" stroke-opacity="0.55" stroke-width="10" stroke-linecap="round"/>
<ellipse cx="330" cy="355" rx="96" ry="96" fill="#585858"/>
<ellipse cx="330" cy="355" rx="96" ry="96" fill="url(#gs)"/>
<ellipse cx="330" cy="355" rx="96" ry="96" fill="url(#lg)" opacity="0.79" transform="rotate(-5 330 355)"/>
<path d="M388.5 285.3A91.0 91.0 0 0 1 399.7 413.5" fill="none" stroke="#fff" stroke-opacity="0.61" stroke-width="10" stroke-linecap="round"/>
<ellipse cx="330" cy="355" rx="96" ry="96" fill="url(#lg)" opacity="0.43" transform="rotate(215 330 355)"/>
<path d="M238.5 355.0A91.5 91.5 0 0 1 298.7 269.0" fill="none" stroke="#fff" stroke-opacity="0.33" stroke-width="9" stroke-linecap="round"/>
<ellipse cx="462" cy="422" rx="90" ry="90" fill="#5e5e5e"/>
<ellipse cx="462" cy="422" rx="90" ry="90" fill="url(#gs)"/>
<ellipse cx="462" cy="422" rx="90" ry="90" fill="url(#lg)" opacity="0.79" transform="rotate(235 462 422)"/>
<path d="M377.0 422.0A85.0 85.0 0 0 1 491.1 342.1" fill="none" stroke="#fff" stroke-opacity="0.61" stroke-width="10" stroke-linecap="round"/>
<ellipse cx="462" cy="422" rx="90" ry="90" fill="url(#lg)" opacity="0.43" transform="rotate(90 462 422)"/>
<path d="M504.8 496.0A85.5 85.5 0 0 1 419.2 496.0" fill="none" stroke="#fff" stroke-opacity="0.33" stroke-width="9" stroke-linecap="round"/>
<ellipse cx="300" cy="545" rx="90" ry="90" fill="#606060"/>
<ellipse cx="300" cy="545" rx="90" ry="90" fill="url(#gs)"/>
<ellipse cx="300" cy="545" rx="90" ry="90" fill="url(#lg)" opacity="0.57" transform="rotate(250 300 545)"/>
<path d="M219.7 515.8A85.5 85.5 0 0 1 342.8 471.0" fill="none" stroke="#fff" stroke-opacity="0.44" stroke-width="9" stroke-linecap="round"/>
<ellipse cx="452" cy="565" rx="90" ry="90" fill="#626262"/>
<ellipse cx="452" cy="565" rx="90" ry="90" fill="url(#gs)"/>
<ellipse cx="452" cy="565" rx="90" ry="90" fill="url(#lg)" opacity="1.00" transform="rotate(260 452 565)"/>
<path d="M372.6 536.1A84.5 84.5 0 0 1 516.7 510.7" fill="none" stroke="#fff" stroke-opacity="0.77" stroke-width="11" stroke-linecap="round"/>
<ellipse cx="130" cy="500" rx="100" ry="100" fill="#585858"/>
<ellipse cx="130" cy="500" rx="100" ry="100" fill="url(#gs)"/>
<ellipse cx="130" cy="500" rx="100" ry="100" fill="url(#lg)" opacity="1.00" transform="rotate(45 130 500)"/>
<path d="M223.1 483.6A94.5 94.5 0 0 1 113.6 593.1" fill="none" stroke="#fff" stroke-opacity="0.83" stroke-width="11" stroke-linecap="round"/>
<ellipse cx="130" cy="500" rx="100" ry="100" fill="url(#lg)" opacity="0.86" transform="rotate(155 130 500)"/>
<path d="M97.7 588.8A94.5 94.5 0 0 1 41.2 467.7" fill="none" stroke="#fff" stroke-opacity="0.66" stroke-width="11" stroke-linecap="round"/>
<ellipse cx="130" cy="500" rx="100" ry="100" fill="url(#lg)" opacity="0.43" transform="rotate(265 130 500)"/>
<path d="M68.6 426.8A95.5 95.5 0 0 1 177.8 417.3" fill="none" stroke="#fff" stroke-opacity="0.33" stroke-width="9" stroke-linecap="round"/>
</g>
<polygon points="85,100 118,95 125,156" fill="#fff"/>
<polygon points="358,186 386,176 396,236" fill="#fff"/>
<polygon points="108,452 139,445 148,501" fill="#fff"/>
<circle cx="124" cy="172" r="4" fill="#ddd"/><circle cx="152" cy="522" r="4" fill="#ddd"/><circle cx="392" cy="255" r="3.5" fill="#ccc"/>
<rect x="398" y="586.5" width="92" height="11" fill="#fff"/>
</g></g>
<clipPath id="cp03"><rect x="269.3" y="193.9" width="77.20" height="91.90"/></clipPath>
<rect x="269.30" y="193.90" width="77.20" height="91.90" fill="#040404" stroke="none" stroke-width="1"/>
<g clip-path="url(#cp03)"><g transform="translate(265 190) scale(0.15637)">
<g filter="url(#fb3)">
<ellipse cx="470" cy="58" rx="64" ry="64" fill="#2a2a2a"/>
<ellipse cx="470" cy="58" rx="64" ry="64" fill="url(#gs)"/>
<ellipse cx="225" cy="88" rx="88" ry="88" fill="#4e4e4e"/>
<ellipse cx="225" cy="88" rx="88" ry="88" fill="url(#gs)"/>
<ellipse cx="225" cy="88" rx="88" ry="88" fill="url(#lg)" opacity="0.20" transform="rotate(240 225 88)"/>
<path d="M145.1 58.9A85.0 85.0 0 0 1 239.8 4.3" fill="none" stroke="#fff" stroke-opacity="0.17" stroke-width="6" stroke-linecap="round"/>
<ellipse cx="68" cy="42" rx="64" ry="64" fill="#b8b8b8"/>
<ellipse cx="68" cy="42" rx="64" ry="64" fill="url(#gs)"/>
<ellipse cx="68" cy="42" rx="60.0" ry="60.0" fill="none" stroke="#fff" stroke-opacity="0.30" stroke-width="8"/>
<ellipse cx="440" cy="165" rx="88" ry="88" fill="#404040"/>
<ellipse cx="440" cy="165" rx="88" ry="88" fill="url(#gs)"/>
<ellipse cx="108" cy="190" rx="92" ry="92" fill="#4a4a4a"/>
<ellipse cx="108" cy="190" rx="92" ry="92" fill="url(#gs)"/>
<ellipse cx="108" cy="190" rx="92" ry="92" fill="url(#lg)" opacity="0.20" transform="rotate(230 108 190)"/>
<path d="M20.4 174.5A89.0 89.0 0 0 1 108.0 101.0" fill="none" stroke="#fff" stroke-opacity="0.17" stroke-width="6" stroke-linecap="round"/>
<ellipse cx="472" cy="340" rx="84" ry="84" fill="#3a3a3a"/>
<ellipse cx="472" cy="340" rx="84" ry="84" fill="url(#gs)"/>
<ellipse cx="512" cy="562" rx="54" ry="54" fill="#282828"/>
<ellipse cx="512" cy="562" rx="54" ry="54" fill="url(#gs)"/>
<ellipse cx="235" cy="545" rx="84" ry="84" fill="#303030"/>
<ellipse cx="235" cy="545" rx="84" ry="84" fill="url(#gs)"/>
<ellipse cx="235" cy="545" rx="84" ry="84" fill="url(#lg)" opacity="0.25" transform="rotate(265 235 545)"/>
<path d="M158.9 517.3A81.0 81.0 0 0 1 305.1 504.5" fill="none" stroke="#fff" stroke-opacity="0.21" stroke-width="6" stroke-linecap="round"/>
<ellipse cx="125" cy="338" rx="88" ry="88" fill="#3a3a3a"/>
<ellipse cx="125" cy="338" rx="88" ry="88" fill="url(#gs)"/>
<ellipse cx="125" cy="338" rx="88" ry="88" fill="url(#lg)" opacity="0.70" transform="rotate(90 125 338)"/>
<path d="M197.7 380.0A84.0 84.0 0 0 1 52.3 380.0" fill="none" stroke="#fff" stroke-opacity="0.59" stroke-width="8" stroke-linecap="round"/>
<ellipse cx="290" cy="380" rx="92" ry="92" fill="#3e3e3e"/>
<ellipse cx="290" cy="380" rx="92" ry="92" fill="url(#gs)"/>
<ellipse cx="290" cy="380" rx="92" ry="92" fill="url(#lg)" opacity="0.40" transform="rotate(190 290 380)"/>
<path d="M213.4 424.2A88.5 88.5 0 0 1 233.1 312.2" fill="none" stroke="#fff" stroke-opacity="0.34" stroke-width="7" stroke-linecap="round"/>
<ellipse cx="380" cy="492" rx="90" ry="90" fill="#404040"/>
<ellipse cx="380" cy="492" rx="90" ry="90" fill="url(#gs)"/>
<ellipse cx="380" cy="492" rx="90" ry="90" fill="url(#lg)" opacity="0.55" transform="rotate(240 380 492)"/>
<path d="M293.5 492.0A86.5 86.5 0 0 1 423.2 417.1" fill="none" stroke="#fff" stroke-opacity="0.47" stroke-width="7" stroke-linecap="round"/>
<ellipse cx="100" cy="482" rx="98" ry="98" fill="#404040"/>
<ellipse cx="100" cy="482" rx="98" ry="98" fill="url(#gs)"/>
<ellipse cx="100" cy="482" rx="98" ry="98" fill="url(#lg)" opacity="0.70" transform="rotate(285 100 482)"/>
<path d="M53.0 400.6A94.0 94.0 0 0 1 181.4 435.0" fill="none" stroke="#fff" stroke-opacity="0.59" stroke-width="8" stroke-linecap="round"/>
<ellipse cx="100" cy="482" rx="98" ry="98" fill="url(#lg)" opacity="0.75" transform="rotate(20 100 482)"/>
<path d="M181.0 435.2A93.5 93.5 0 0 1 132.0 569.9" fill="none" stroke="#fff" stroke-opacity="0.64" stroke-width="9" stroke-linecap="round"/>
<ellipse cx="18" cy="470" rx="36" ry="36" fill="#e4e4e4"/>
<ellipse cx="18" cy="470" rx="36" ry="36" fill="url(#gs)"/>
</g>
<polygon points="110,300 146,290 156,356" fill="#fff"/>
<rect x="400" y="586.5" width="97" height="11" fill="#fff"/>
</g></g>
<clipPath id="cp04"><rect x="349.6" y="193.9" width="77.50" height="91.90"/></clipPath>
<rect x="349.60" y="193.90" width="77.50" height="91.90" fill="#050505" stroke="none" stroke-width="1"/>
<g clip-path="url(#cp04)"><g transform="translate(345 190) scale(0.15637)">
<g filter="url(#fb2)">
<ellipse cx="170" cy="52" rx="76" ry="76" fill="#545454"/>
<ellipse cx="170" cy="52" rx="76" ry="76" fill="url(#gc)"/>
<ellipse cx="170" cy="52" rx="76" ry="76" fill="url(#lg)" opacity="0.32" transform="rotate(90 170 52)"/>
<path d="M243.5 52.0A73.5 73.5 0 0 1 96.5 52.0" fill="none" stroke="#fff" stroke-opacity="0.34" stroke-width="5" stroke-linecap="round"/>
<ellipse cx="320" cy="68" rx="86" ry="86" fill="#5c5c5c"/>
<ellipse cx="320" cy="68" rx="86" ry="86" fill="url(#gc)"/>
<ellipse cx="320" cy="68" rx="86" ry="86" fill="url(#lg)" opacity="0.36" transform="rotate(90 320 68)"/>
<path d="M403.5 68.0A83.5 83.5 0 0 1 236.5 68.0" fill="none" stroke="#fff" stroke-opacity="0.38" stroke-width="5" stroke-linecap="round"/>
<ellipse cx="472" cy="112" rx="66" ry="92" fill="#9a9a9a" transform="rotate(-20 472 112)"/>
<ellipse cx="472" cy="112" rx="66" ry="92" fill="url(#gc)" transform="rotate(-20 472 112)"/>
<ellipse cx="472" cy="112" rx="63.5" ry="89.5" fill="none" stroke="#fff" stroke-opacity="0.45" stroke-width="5" transform="rotate(-20 472 112)"/>
<ellipse cx="372" cy="186" rx="82" ry="82" fill="#505050"/>
<ellipse cx="372" cy="186" rx="82" ry="82" fill="url(#gc)"/>
<ellipse cx="372" cy="186" rx="79.5" ry="79.5" fill="none" stroke="#fff" stroke-opacity="0.42" stroke-width="5"/>
<ellipse cx="72" cy="212" rx="82" ry="82" fill="#8c8c8c"/>
<ellipse cx="72" cy="212" rx="82" ry="82" fill="url(#gc)"/>
<ellipse cx="72" cy="212" rx="82" ry="82" fill="url(#lg)" opacity="0.48" transform="rotate(255 72 212)"/>
<path d="M-7.0 212.0A79.0 79.0 0 0 1 140.4 172.5" fill="none" stroke="#fff" stroke-opacity="0.51" stroke-width="6" stroke-linecap="round"/>
<ellipse cx="165" cy="300" rx="62" ry="62" fill="#686868"/>
<ellipse cx="165" cy="300" rx="62" ry="62" fill="url(#gc)"/>
<ellipse cx="165" cy="300" rx="62" ry="62" fill="url(#lg)" opacity="0.24" transform="rotate(90 165 300)"/>
<path d="M225.0 300.0A60.0 60.0 0 0 1 105.0 300.0" fill="none" stroke="#fff" stroke-opacity="0.26" stroke-width="4" stroke-linecap="round"/>
<ellipse cx="205" cy="190" rx="86" ry="86" fill="#727272"/>
<ellipse cx="205" cy="190" rx="86" ry="86" fill="url(#gc)"/>
<ellipse cx="205" cy="190" rx="83.5" ry="83.5" fill="none" stroke="#fff" stroke-opacity="0.62" stroke-width="5"/>
<ellipse cx="505" cy="265" rx="52" ry="52" fill="#666666"/>
<ellipse cx="505" cy="265" rx="52" ry="52" fill="url(#gc)"/>
<ellipse cx="505" cy="265" rx="52" ry="52" fill="url(#lg)" opacity="0.32" transform="rotate(180 505 265)"/>
<path d="M505.0 315.0A50.0 50.0 0 0 1 505.0 215.0" fill="none" stroke="#fff" stroke-opacity="0.34" stroke-width="4" stroke-linecap="round"/>
<ellipse cx="68" cy="320" rx="82" ry="82" fill="#848484"/>
<ellipse cx="68" cy="320" rx="82" ry="82" fill="url(#gc)"/>
<ellipse cx="68" cy="320" rx="82" ry="82" fill="url(#lg)" opacity="0.48" transform="rotate(0 68 320)"/>
<path d="M107.2 252.0A78.5 78.5 0 0 1 107.2 388.0" fill="none" stroke="#fff" stroke-opacity="0.51" stroke-width="7" stroke-linecap="round"/>
<ellipse cx="282" cy="360" rx="88" ry="88" fill="#626262"/>
<ellipse cx="282" cy="360" rx="88" ry="88" fill="url(#gc)"/>
<ellipse cx="282" cy="360" rx="85.5" ry="85.5" fill="none" stroke="#fff" stroke-opacity="0.42" stroke-width="5"/>
<ellipse cx="90" cy="548" rx="66" ry="66" fill="#5c5c5c"/>
<ellipse cx="90" cy="548" rx="66" ry="66" fill="url(#gc)"/>
<ellipse cx="90" cy="548" rx="66" ry="66" fill="url(#lg)" opacity="0.40" transform="rotate(270 90 548)"/>
<path d="M26.5 548.0A63.5 63.5 0 0 1 153.5 548.0" fill="none" stroke="#fff" stroke-opacity="0.42" stroke-width="5" stroke-linecap="round"/>
<ellipse cx="90" cy="548" rx="66" ry="66" fill="url(#lg)" opacity="0.40" transform="rotate(45 90 548)"/>
<path d="M153.5 548.0A63.5 63.5 0 0 1 90.0 611.5" fill="none" stroke="#fff" stroke-opacity="0.42" stroke-width="5" stroke-linecap="round"/>
<ellipse cx="260" cy="602" rx="52" ry="52" fill="#505050"/>
<ellipse cx="260" cy="602" rx="52" ry="52" fill="url(#gc)"/>
<ellipse cx="260" cy="602" rx="52" ry="52" fill="url(#lg)" opacity="0.32" transform="rotate(270 260 602)"/>
<path d="M210.0 602.0A50.0 50.0 0 0 1 310.0 602.0" fill="none" stroke="#fff" stroke-opacity="0.34" stroke-width="4" stroke-linecap="round"/>
<ellipse cx="522" cy="430" rx="30" ry="30" fill="#505050"/>
<ellipse cx="522" cy="430" rx="30" ry="30" fill="url(#gc)"/>
<ellipse cx="200" cy="482" rx="90" ry="90" fill="#484848"/>
<ellipse cx="200" cy="482" rx="90" ry="90" fill="url(#gd)"/>
<ellipse cx="200" cy="482" rx="87.5" ry="87.5" fill="none" stroke="#fff" stroke-opacity="0.62" stroke-width="5"/>
<ellipse cx="392" cy="492" rx="100" ry="100" fill="#484848"/>
<ellipse cx="392" cy="492" rx="100" ry="100" fill="url(#gd)"/>
<ellipse cx="392" cy="492" rx="97.5" ry="97.5" fill="none" stroke="#fff" stroke-opacity="0.62" stroke-width="5"/>
</g>
<path d="M168 488h0M242 548h0M132 438h0M436 468h0M408 556h0M378 512h0M348 540h0M452 500h0M340 455h0M160 420h0" stroke="#fff" stroke-width="8" stroke-linecap="round"/>
<line x1="420" y1="140" x2="440.6" y2="190.2" stroke="#fff" stroke-width="5"/>
<polygon points="425.2,192.2 453.0,180.9 452,218" fill="#fff"/>
<line x1="245" y1="375" x2="266.6" y2="427.3" stroke="#fff" stroke-width="5"/>
<polygon points="251.2,429.3 278.9,417.8 278,455" fill="#fff"/>
<polygon points="90,366 125,360 126,421" fill="#fff"/>
<polygon points="155,368 186,362 191,421" fill="#fff"/>
<polygon points="390,386 421,380 426,441" fill="#fff"/>
<rect x="410" y="586.5" width="95" height="11" fill="#fff"/>
</g></g>
<clipPath id="cp10"><rect x="29.0" y="288.2" width="77.50" height="91.70"/></clipPath>
<rect x="29.00" y="288.20" width="77.50" height="91.70" fill="url(#bg2)" stroke="none" stroke-width="1"/>
<g clip-path="url(#cp10)"><g transform="translate(25 284) scale(0.15637)">
<g filter="url(#fb5)">
<ellipse cx="75" cy="52" rx="54" ry="34" fill="#9a9a9a" stroke="#505050" stroke-width="13" transform="rotate(-8 75 52)"/>
<ellipse cx="75" cy="52" rx="67" ry="47" fill="none" stroke="#e0e0e0" stroke-opacity="0.4" stroke-width="4" transform="rotate(-8 75 52)"/>
<ellipse cx="75" cy="52" rx="24" ry="10" fill="#aaa" stroke="#777" stroke-width="3" transform="rotate(-8 75 52)"/>
<ellipse cx="260" cy="36" rx="50" ry="20" fill="#9c9c9c" stroke="#555" stroke-width="10"/>
<ellipse cx="260" cy="36" rx="60" ry="30" fill="none" stroke="#e0e0e0" stroke-opacity="0.4" stroke-width="4"/>
<path d="M382 95 Q395 45 450 40 Q505 45 508 85 Q480 130 440 128 Q395 125 382 95Z" fill="#a2a2a2" stroke="#4a4a4a" stroke-width="8"/>
<path d="M392 98 Q445 120 500 80" fill="none" stroke="#3a3a3a" stroke-width="10"/>
<path d="M400 80 Q445 95 485 65" fill="none" stroke="#d0d0d0" stroke-width="7"/>
<path d="M200 115 Q240 90 275 120 Q290 160 250 180 Q205 185 190 160 Q215 150 200 115Z" fill="#9a9a9a" stroke="#444" stroke-width="8"/>
<path d="M215 130 Q250 135 255 165" fill="none" stroke="#d4d4d4" stroke-width="7"/>
<ellipse cx="185" cy="235" rx="54" ry="48" fill="#8a8a8a" stroke="#4e4e4e" stroke-width="12"/>
<ellipse cx="185" cy="235" rx="66" ry="60" fill="none" stroke="#e0e0e0" stroke-opacity="0.5" stroke-width="4"/>
<ellipse cx="185" cy="235" rx="24" ry="20" fill="#b0b0b0" stroke="#9a9a9a" stroke-width="3"/>
<ellipse cx="492" cy="182" rx="44" ry="56" fill="#a6a6a6" stroke="#6a6a6a" stroke-width="7"/>
<ellipse cx="492" cy="182" rx="51" ry="63" fill="none" stroke="#e0e0e0" stroke-opacity="0.35" stroke-width="4"/>
<ellipse cx="110" cy="340" rx="58" ry="46" fill="#7c7c7c" stroke="#3e3e3e" stroke-width="14" transform="rotate(5 110 340)"/>
<ellipse cx="110" cy="340" rx="72" ry="60" fill="none" stroke="#e0e0e0" stroke-opacity="0.5" stroke-width="4" transform="rotate(5 110 340)"/>
<ellipse cx="110" cy="340" rx="22" ry="16" fill="#b4b4b4" stroke="#555" stroke-width="5" transform="rotate(5 110 340)"/>
<ellipse cx="310" cy="340" rx="70" ry="64" fill="#a0a0a0" stroke="#7a7a7a" stroke-width="5"/>
<ellipse cx="310" cy="340" rx="75" ry="69" fill="none" stroke="#e0e0e0" stroke-opacity="0.3" stroke-width="4"/>
<ellipse cx="310" cy="340" rx="40" ry="34" fill="#a8a8a8" stroke="#999" stroke-width="3"/>
<ellipse cx="520" cy="345" rx="36" ry="60" fill="#a4a4a4" stroke="#777" stroke-width="5"/>
<ellipse cx="32" cy="392" rx="26" ry="40" fill="#8e8e8e" stroke="#555" stroke-width="7"/>
<path d="M290 455 Q340 445 385 410" fill="none" stroke="#4c4c4c" stroke-width="44" stroke-linecap="round"/>
<path d="M290 455 Q340 445 385 410" fill="none" stroke="#a4a4a4" stroke-width="28" stroke-linecap="round"/>
<path d="M230 470 Q270 490 310 520" fill="none" stroke="#4a4a4a" stroke-width="50" stroke-linecap="round"/>
<path d="M230 470 Q270 490 310 520" fill="none" stroke="#9c9c9c" stroke-width="32" stroke-linecap="round"/>
<ellipse cx="190" cy="548" rx="74" ry="48" fill="#7a7a7a" stroke="#3a3a3a" stroke-width="14" transform="rotate(8 190 548)"/>
<ellipse cx="190" cy="548" rx="88" ry="62" fill="none" stroke="#e0e0e0" stroke-opacity="0.5" stroke-width="4" transform="rotate(8 190 548)"/>
<ellipse cx="190" cy="548" rx="34" ry="18" fill="#bcbcbc" stroke="#4a4a4a" stroke-width="6" transform="rotate(8 190 548)"/>
<ellipse cx="432" cy="590" rx="66" ry="50" fill="#9c9c9c" stroke="#7c7c7c" stroke-width="5"/>
<ellipse cx="432" cy="590" rx="71" ry="55" fill="none" stroke="#e0e0e0" stroke-opacity="0.3" stroke-width="4"/>
</g>
<polygon points="95,130 100,166 177,142" fill="#1a3cf0"/>
<polygon points="100,190 136,195 112,272" fill="#1a3cf0"/>
<polygon points="390,200 429,211 433,129" fill="#1a3cf0"/>
<polygon points="199,350 241,345 236,427" fill="#18d818"/>
<rect x="405" y="589.5" width="95" height="11" fill="#fff"/>
</g></g>
<clipPath id="cp11"><rect x="109.1" y="288.2" width="77.30" height="91.70"/></clipPath>
<rect x="109.10" y="288.20" width="77.30" height="91.70" fill="#000" stroke="none" stroke-width="1"/>
<g clip-path="url(#cp11)"><g transform="translate(105 284) scale(0.15637)">
<g filter="url(#fb5)">
<ellipse cx="235" cy="110" rx="96" ry="64" fill="#fff" fill-opacity="0.070" stroke="#fff" stroke-opacity="0.102" stroke-width="10" transform="rotate(-5 235 110)"/>
<ellipse cx="215" cy="215" rx="100" ry="50" fill="#fff" fill-opacity="0.079" stroke="#fff" stroke-opacity="0.116" stroke-width="10" transform="rotate(5 215 215)"/>
<ellipse cx="175" cy="355" rx="106" ry="70" fill="#fff" fill-opacity="0.110" stroke="#fff" stroke-opacity="0.160" stroke-width="10" transform="rotate(-3 175 355)"/>
<ellipse cx="470" cy="115" rx="66" ry="60" fill="#fff" fill-opacity="0.089" stroke="#fff" stroke-opacity="0.130" stroke-width="10" transform="rotate(10 470 115)"/>
<ellipse cx="432" cy="330" rx="90" ry="76" fill="#fff" fill-opacity="0.033" stroke="#fff" stroke-opacity="0.048" stroke-width="10" transform="rotate(0 432 330)"/>
<ellipse cx="270" cy="490" rx="86" ry="60" fill="#fff" fill-opacity="0.040" stroke="#fff" stroke-opacity="0.058" stroke-width="10" transform="rotate(10 270 490)"/>
<ellipse cx="482" cy="568" rx="72" ry="56" fill="#fff" fill-opacity="0.099" stroke="#fff" stroke-opacity="0.144" stroke-width="10" transform="rotate(0 482 568)"/>
<ellipse cx="130" cy="582" rx="72" ry="40" fill="#fff" fill-opacity="0.040" stroke="#fff" stroke-opacity="0.058" stroke-width="10" transform="rotate(0 130 582)"/>
<ellipse cx="50" cy="80" rx="34" ry="40" fill="#fff" fill-opacity="0.110" stroke="#fff" stroke-opacity="0.160" stroke-width="10" transform="rotate(0 50 80)"/>
<ellipse cx="525" cy="230" rx="24" ry="50" fill="#fff" fill-opacity="0.054" stroke="#fff" stroke-opacity="0.078" stroke-width="10" transform="rotate(0 525 230)"/>
<ellipse cx="40" cy="300" rx="20" ry="60" fill="#fff" fill-opacity="0.028" stroke="#fff" stroke-opacity="0.040" stroke-width="10" transform="rotate(0 40 300)"/>
</g>
<g filter="url(#fb2)">
<path d="M409 273h0M363 374h0M239 33h0M209 463h0M36 37h0M499 514h0M59 242h0M493 485h0M194 191h0M507 437h0M215 427h0M171 110h0M102 596h0M421 145h0M487 164h0M58 258h0M124 133h0M213 90h0M323 229h0M239 579h0M307 401h0" stroke="#9a9a9a" stroke-width="8" stroke-linecap="round" fill="none"/>
<path d="M344 572h0M274 332h0M480 288h0M511 305h0M299 76h0M134 116h0M90 590h0M137 99h0M39 447h0M251 461h0M449 453h0M174 352h0M256 571h0M478 59h0M366 388h0M182 453h0M387 301h0M101 492h0M497 123h0M264 481h0M193 381h0M437 378h0M316 596h0M408 164h0M169 29h0M161 120h0M365 560h0M292 342h0M131 176h0M418 296h0M293 235h0M144 365h0M464 332h0M278 145h0M172 364h0M227 329h0M151 565h0M257 76h0M327 83h0M515 532h0M317 152h0M431 589h0M443 225h0M215 44h0M303 535h0M269 520h0M453 400h0M376 80h0M278 134h0" stroke="#707070" stroke-width="7" stroke-linecap="round" fill="none"/>
<g opacity="0.66">
<path d="M332 100h0M312 139h0M144 139h0M142 126h0M178 62h0M257 48h0M321 84h0M215 80h0M271 122h0M216 77h0M269 61h0M232 119h0M231 111h0M182 123h0" stroke="#9a9a9a" stroke-width="8" stroke-linecap="round" fill="none"/>
<path d="M325 114h0M282 163h0M270 167h0M214 174h0M145 119h0M146 100h0M146 91h0M226 46h0M283 55h0M227 149h0M189 156h0M269 80h0" stroke="#d8d8d8" stroke-width="9.5" stroke-linecap="round" fill="none"/>
<path d="M323 130h0M257 173h0M241 176h0M192 173h0M189 165h0M156 77h0M215 51h0M244 46h0M270 51h0M303 59h0" stroke="#ffffff" stroke-width="11" stroke-linecap="round" fill="none"/>
<path d="M277 90h0M278 137h0M156 95h0M269 118h0M254 122h0M219 102h0M157 98h0M292 85h0M263 74h0M241 139h0M253 116h0" stroke="#707070" stroke-width="7" stroke-linecap="round" fill="none"/>
</g>
<g opacity="0.72">
<path d="M304 239h0M309 217h0M186 201h0M192 203h0M246 217h0" stroke="#9a9a9a" stroke-width="8" stroke-linecap="round" fill="none"/>
<path d="M278 258h0M254 263h0M234 267h0M221 265h0M171 259h0M118 216h0M113 200h0M246 172h0M283 184h0M233 242h0M221 189h0M277 242h0M245 232h0" stroke="#d8d8d8" stroke-width="9.5" stroke-linecap="round" fill="none"/>
<path d="M299 246h0M121 207h0M122 190h0M224 168h0M258 173h0M272 179h0M303 200h0" stroke="#ffffff" stroke-width="11" stroke-linecap="round" fill="none"/>
<path d="M147 234h0M249 213h0M202 253h0M219 216h0M140 204h0M182 175h0M207 206h0M172 187h0M248 231h0M258 250h0" stroke="#707070" stroke-width="7" stroke-linecap="round" fill="none"/>
</g>
<g opacity="0.92">
<path d="M233 409h0M221 420h0M195 423h0M154 421h0M85 397h0M86 388h0M90 323h0M200 290h0M281 331h0M186 354h0M201 335h0M186 384h0M201 406h0M217 314h0M246 356h0" stroke="#9a9a9a" stroke-width="8" stroke-linecap="round" fill="none"/>
<path d="M284 347h0M278 368h0M165 421h0M68 358h0M65 352h0M76 333h0M90 311h0M168 288h0M215 290h0M231 293h0M149 366h0M174 356h0M220 345h0M183 350h0" stroke="#d8d8d8" stroke-width="9.5" stroke-linecap="round" fill="none"/>
<path d="M277 377h0M267 387h0M255 395h0M179 427h0M134 422h0M96 407h0M73 371h0M156 284h0" stroke="#ffffff" stroke-width="11" stroke-linecap="round" fill="none"/>
<path d="M172 353h0M117 388h0M203 360h0M210 387h0M258 353h0M146 321h0M119 386h0M184 348h0M143 373h0M133 348h0M150 383h0M253 359h0M193 366h0M187 317h0M182 336h0M144 345h0M261 329h0M90 382h0M131 378h0M173 310h0M246 360h0M179 336h0" stroke="#707070" stroke-width="7" stroke-linecap="round" fill="none"/>
</g>
<g opacity="0.78">
<path d="M413 146h0M468 54h0M503 63h0M530 93h0M464 106h0M438 112h0" stroke="#9a9a9a" stroke-width="8" stroke-linecap="round" fill="none"/>
<path d="M423 157h0M406 124h0M417 73h0M449 55h0M476 53h0M516 72h0" stroke="#d8d8d8" stroke-width="9.5" stroke-linecap="round" fill="none"/>
<path d="M532 128h0M517 157h0M507 167h0M497 169h0M479 171h0M466 174h0M407 133h0M404 108h0M409 84h0M490 57h0M534 112h0" stroke="#ffffff" stroke-width="11" stroke-linecap="round" fill="none"/>
<path d="M479 137h0M512 124h0M448 80h0M466 80h0M464 107h0M511 108h0M520 118h0M475 154h0" stroke="#707070" stroke-width="7" stroke-linecap="round" fill="none"/>
</g>
<g opacity="0.42">
<path d="M525 327h0M420 406h0M412 403h0M385 397h0M350 355h0M356 295h0M372 276h0M386 265h0M425 258h0M443 382h0M454 326h0M444 387h0M454 375h0M368 306h0M462 347h0" stroke="#9a9a9a" stroke-width="8" stroke-linecap="round" fill="none"/>
<path d="M513 361h0M439 404h0M372 388h0M338 333h0M345 299h0M433 253h0M464 259h0M475 264h0M483 269h0M505 289h0M511 296h0M412 281h0M363 327h0M444 339h0" stroke="#d8d8d8" stroke-width="9.5" stroke-linecap="round" fill="none"/>
<path d="M499 380h0M484 390h0M459 402h0M392 398h0M359 280h0M522 318h0" stroke="#ffffff" stroke-width="11" stroke-linecap="round" fill="none"/>
<path d="M463 364h0M465 320h0M407 338h0M438 365h0M437 317h0M378 284h0M375 342h0M453 326h0M426 333h0M409 268h0M499 365h0M478 364h0" stroke="#707070" stroke-width="7" stroke-linecap="round" fill="none"/>
</g>
<g opacity="0.46">
<path d="M317 543h0M309 550h0M272 550h0M191 510h0M186 484h0M228 435h0M252 428h0M297 438h0M321 444h0M197 488h0M266 440h0M215 468h0" stroke="#9a9a9a" stroke-width="8" stroke-linecap="round" fill="none"/>
<path d="M327 538h0M197 521h0M187 475h0M261 426h0M281 434h0M358 497h0M324 472h0M280 504h0M225 465h0M287 499h0M260 500h0" stroke="#d8d8d8" stroke-width="9.5" stroke-linecap="round" fill="none"/>
<path d="M357 508h0M286 547h0M228 540h0M218 537h0M186 495h0M198 448h0M236 434h0M307 442h0M339 463h0M352 485h0" stroke="#ffffff" stroke-width="11" stroke-linecap="round" fill="none"/>
<path d="M257 465h0M288 443h0M300 528h0M247 475h0M270 492h0M203 494h0M258 488h0M283 496h0M323 520h0M270 489h0" stroke="#707070" stroke-width="7" stroke-linecap="round" fill="none"/>
</g>
<g opacity="0.85">
<path d="M552 565h0M505 618h0M485 621h0M452 621h0M417 589h0M414 549h0M465 512h0M539 536h0M531 581h0M482 564h0M525 554h0" stroke="#9a9a9a" stroke-width="8" stroke-linecap="round" fill="none"/>
<path d="M550 586h0M522 618h0M465 621h0M443 613h0M434 605h0M421 599h0M440 521h0M494 515h0M550 544h0" stroke="#d8d8d8" stroke-width="9.5" stroke-linecap="round" fill="none"/>
<path d="M546 598h0M497 622h0M410 582h0M408 557h0M421 538h0M432 525h0M451 515h0M478 510h0M509 515h0M553 559h0" stroke="#ffffff" stroke-width="11" stroke-linecap="round" fill="none"/>
<path d="M489 521h0M479 575h0M496 556h0M435 538h0M452 577h0M516 605h0" stroke="#707070" stroke-width="7" stroke-linecap="round" fill="none"/>
</g>
<g opacity="0.46">
<path d="M144 622h0M115 619h0M80 613h0M69 607h0M69 563h0M178 551h0M90 603h0M152 580h0M134 578h0M99 554h0" stroke="#9a9a9a" stroke-width="8" stroke-linecap="round" fill="none"/>
<path d="M202 590h0M196 599h0M189 607h0M164 615h0M85 552h0M102 547h0M133 540h0M184 555h0M195 566h0M200 574h0" stroke="#d8d8d8" stroke-width="9.5" stroke-linecap="round" fill="none"/>
<path d="M134 620h0M98 618h0M63 593h0M114 545h0M166 547h0" stroke="#ffffff" stroke-width="11" stroke-linecap="round" fill="none"/>
<path d="M104 585h0M149 571h0" stroke="#707070" stroke-width="7" stroke-linecap="round" fill="none"/>
</g>
<g opacity="0.92">
<path d="M58 119h0M16 82h0M61 77h0" stroke="#9a9a9a" stroke-width="8" stroke-linecap="round" fill="none"/>
<path d="M80 96h0M68 112h0M23 103h0M19 94h0M41 43h0M73 52h0M73 87h0" stroke="#d8d8d8" stroke-width="9.5" stroke-linecap="round" fill="none"/>
<path d="M72 107h0M42 119h0M22 57h0M57 41h0" stroke="#ffffff" stroke-width="11" stroke-linecap="round" fill="none"/>
<path d="M23 71h0M49 98h0M46 80h0M70 67h0" stroke="#707070" stroke-width="7" stroke-linecap="round" fill="none"/>
</g>
<g opacity="0.55">
<path d="M548 231h0M543 260h0M503 243h0M502 218h0M525 182h0M543 196h0" stroke="#9a9a9a" stroke-width="8" stroke-linecap="round" fill="none"/>
<path d="M540 269h0M513 275h0M511 267h0" stroke="#d8d8d8" stroke-width="9.5" stroke-linecap="round" fill="none"/>
<path d="M548 243h0M529 280h0M505 208h0M507 197h0M531 181h0" stroke="#ffffff" stroke-width="11" stroke-linecap="round" fill="none"/>
<path d="M530 229h0M522 229h0" stroke="#707070" stroke-width="7" stroke-linecap="round" fill="none"/>
</g>
<g opacity="0.38">
<path d="M56 333h0M30 348h0M25 336h0M20 310h0M43 241h0M42 345h0M32 309h0" stroke="#9a9a9a" stroke-width="8" stroke-linecap="round" fill="none"/>
<path d="M59 315h0M48 245h0" stroke="#d8d8d8" stroke-width="9.5" stroke-linecap="round" fill="none"/>
<path d="M60 298h0M46 358h0M36 358h0M23 328h0M25 264h0M31 251h0M35 244h0" stroke="#ffffff" stroke-width="11" stroke-linecap="round" fill="none"/>
</g>
</g>
<line x1="108" y1="35" x2="129.2" y2="79.9" stroke="#fff" stroke-width="5"/>
<polygon points="113.9,82.7 141.0,69.9 142,107" fill="#fff"/>
<line x1="55" y1="200" x2="84.1" y2="260.9" stroke="#fff" stroke-width="5"/>
<polygon points="68.8,263.8 95.9,250.9 97,288" fill="#fff"/>
<polygon points="435,50 463,45 469,101" fill="#fff"/>
<polygon points="272,395 301,388 309,446" fill="#fff"/>
<rect x="400" y="589.5" width="100" height="11" fill="#fff"/>
</g></g>
<clipPath id="cp12"><rect x="189.3" y="288.2" width="76.80" height="91.70"/></clipPath>
<rect x="189.30" y="288.20" width="76.80" height="91.70" fill="#060606" stroke="none" stroke-width="1"/>
<g clip-path="url(#cp12)"><g transform="translate(185 284) scale(0.15637)">
<g filter="url(#fb5)">
<ellipse cx="512" cy="120" rx="44" ry="44" fill="#222222"/>
<ellipse cx="512" cy="120" rx="44" ry="44" fill="url(#gs)"/>
<ellipse cx="110" cy="62" rx="94" ry="94" fill="#2e2e2e"/>
<ellipse cx="110" cy="62" rx="94" ry="94" fill="url(#gs)"/>
<ellipse cx="110" cy="62" rx="94" ry="94" fill="url(#lg)" opacity="0.27" transform="rotate(75 110 62)"/>
<path d="M187.9 107.0A90.0 90.0 0 0 1 65.0 139.9" fill="none" stroke="#fff" stroke-opacity="0.38" stroke-width="8" stroke-linecap="round"/>
<ellipse cx="310" cy="150" rx="80" ry="80" fill="#2e2e2e"/>
<ellipse cx="310" cy="150" rx="80" ry="80" fill="url(#gs)"/>
<ellipse cx="400" cy="62" rx="94" ry="94" fill="#383838"/>
<ellipse cx="400" cy="62" rx="94" ry="94" fill="url(#gs)"/>
<ellipse cx="400" cy="62" rx="94" ry="94" fill="url(#lg)" opacity="0.36" transform="rotate(155 400 62)"/>
<path d="M369.4 146.1A89.5 89.5 0 0 1 315.9 31.4" fill="none" stroke="#fff" stroke-opacity="0.51" stroke-width="9" stroke-linecap="round"/>
<ellipse cx="150" cy="186" rx="94" ry="94" fill="#363636"/>
<ellipse cx="150" cy="186" rx="94" ry="94" fill="url(#gs)"/>
<ellipse cx="150" cy="186" rx="94" ry="94" fill="url(#lg)" opacity="0.24" transform="rotate(275 150 186)"/>
<path d="M91.8 116.7A90.5 90.5 0 0 1 219.3 127.8" fill="none" stroke="#fff" stroke-opacity="0.34" stroke-width="7" stroke-linecap="round"/>
<ellipse cx="150" cy="186" rx="94" ry="94" fill="url(#lg)" opacity="0.18" transform="rotate(5 150 186)"/>
<path d="M235.5 154.9A91.0 91.0 0 0 1 228.8 231.5" fill="none" stroke="#fff" stroke-opacity="0.26" stroke-width="6" stroke-linecap="round"/>
<ellipse cx="315" cy="287" rx="98" ry="98" fill="#363636"/>
<ellipse cx="315" cy="287" rx="98" ry="98" fill="url(#gs)"/>
<ellipse cx="315" cy="287" rx="98" ry="98" fill="url(#lg)" opacity="0.24" transform="rotate(260 315 287)"/>
<path d="M242.6 226.3A94.5 94.5 0 0 1 362.2 205.2" fill="none" stroke="#fff" stroke-opacity="0.34" stroke-width="7" stroke-linecap="round"/>
<ellipse cx="260" cy="422" rx="94" ry="94" fill="#363636"/>
<ellipse cx="260" cy="422" rx="94" ry="94" fill="url(#gs)"/>
<ellipse cx="260" cy="422" rx="94" ry="94" fill="url(#lg)" opacity="0.21" transform="rotate(270 260 422)"/>
<path d="M201.8 352.7A90.5 90.5 0 0 1 318.2 352.7" fill="none" stroke="#fff" stroke-opacity="0.30" stroke-width="7" stroke-linecap="round"/>
<ellipse cx="330" cy="592" rx="64" ry="64" fill="#484848"/>
<ellipse cx="330" cy="592" rx="64" ry="64" fill="url(#gs)"/>
<ellipse cx="330" cy="592" rx="64" ry="64" fill="url(#lg)" opacity="0.30" transform="rotate(240 330 592)"/>
<path d="M270.0 592.0A60.0 60.0 0 0 1 360.0 540.0" fill="none" stroke="#fff" stroke-opacity="0.42" stroke-width="8" stroke-linecap="round"/>
<ellipse cx="405" cy="472" rx="88" ry="88" fill="#3e3e3e"/>
<ellipse cx="405" cy="472" rx="88" ry="88" fill="url(#gs)"/>
<ellipse cx="405" cy="472" rx="88" ry="88" fill="url(#lg)" opacity="0.21" transform="rotate(250 405 472)"/>
<path d="M325.6 443.1A84.5 84.5 0 0 1 447.2 398.8" fill="none" stroke="#fff" stroke-opacity="0.30" stroke-width="7" stroke-linecap="round"/>
<ellipse cx="28" cy="572" rx="42" ry="42" fill="#3e3e3e"/>
<ellipse cx="28" cy="572" rx="42" ry="42" fill="url(#gs)"/>
<ellipse cx="110" cy="522" rx="94" ry="94" fill="#383838"/>
<ellipse cx="110" cy="522" rx="94" ry="94" fill="url(#gs)"/>
<ellipse cx="110" cy="522" rx="94" ry="94" fill="url(#lg)" opacity="0.42" transform="rotate(50 110 522)"/>
<path d="M198.1 537.5A89.5 89.5 0 0 1 110.0 611.5" fill="none" stroke="#fff" stroke-opacity="0.59" stroke-width="9" stroke-linecap="round"/>
<ellipse cx="110" cy="522" rx="94" ry="94" fill="url(#lg)" opacity="0.18" transform="rotate(260 110 522)"/>
<path d="M40.3 463.5A91.0 91.0 0 0 1 155.5 443.2" fill="none" stroke="#fff" stroke-opacity="0.26" stroke-width="6" stroke-linecap="round"/>
</g>
<polygon points="212,60 244,52 251,116" fill="#fff"/>
<polygon points="248,455 279,447 291,506" fill="#fff"/>
<rect x="400" y="589.5" width="92" height="11" fill="#fff"/>
</g></g>
<clipPath id="cp13"><rect x="269.3" y="288.2" width="77.20" height="91.70"/></clipPath>
<rect x="269.30" y="288.20" width="77.20" height="91.70" fill="#040404" stroke="none" stroke-width="1"/>
<g clip-path="url(#cp13)"><g transform="translate(265 284) scale(0.15637)">
<g filter="url(#fb3)">
<ellipse cx="30" cy="100" rx="48" ry="48" fill="#5a5a5a"/>
<ellipse cx="30" cy="100" rx="48" ry="48" fill="url(#gs)"/>
<ellipse cx="140" cy="58" rx="84" ry="84" fill="#3e3e3e"/>
<ellipse cx="140" cy="58" rx="84" ry="84" fill="url(#gs)"/>
<ellipse cx="300" cy="52" rx="88" ry="88" fill="#3c3c3c"/>
<ellipse cx="300" cy="52" rx="88" ry="88" fill="url(#gs)"/>
<ellipse cx="300" cy="52" rx="88" ry="88" fill="url(#lg)" opacity="0.18" transform="rotate(175 300 52)"/>
<path d="M226.4 94.5A85.0 85.0 0 0 1 220.1 22.9" fill="none" stroke="#fff" stroke-opacity="0.26" stroke-width="6" stroke-linecap="round"/>
<ellipse cx="30" cy="340" rx="48" ry="48" fill="#6c6c6c"/>
<ellipse cx="30" cy="340" rx="48" ry="48" fill="url(#gs)"/>
<ellipse cx="280" cy="562" rx="88" ry="88" fill="#2e2e2e"/>
<ellipse cx="280" cy="562" rx="88" ry="88" fill="url(#gs)"/>
<ellipse cx="280" cy="562" rx="88" ry="88" fill="url(#lg)" opacity="0.30" transform="rotate(270 280 562)"/>
<path d="M215.3 507.7A84.5 84.5 0 0 1 344.7 507.7" fill="none" stroke="#fff" stroke-opacity="0.42" stroke-width="7" stroke-linecap="round"/>
<ellipse cx="350" cy="457" rx="102" ry="102" fill="#383838"/>
<ellipse cx="350" cy="457" rx="102" ry="102" fill="url(#gs)"/>
<ellipse cx="350" cy="457" rx="102" ry="102" fill="url(#lg)" opacity="0.39" transform="rotate(275 350 457)"/>
<path d="M287.0 381.9A98.0 98.0 0 0 1 425.1 394.0" fill="none" stroke="#fff" stroke-opacity="0.55" stroke-width="8" stroke-linecap="round"/>
<ellipse cx="415" cy="316" rx="88" ry="88" fill="#3e3e3e"/>
<ellipse cx="415" cy="316" rx="88" ry="88" fill="url(#gs)"/>
<ellipse cx="415" cy="316" rx="88" ry="88" fill="url(#lg)" opacity="0.36" transform="rotate(95 415 316)"/>
<path d="M457.0 388.7A84.0 84.0 0 0 1 361.0 380.3" fill="none" stroke="#fff" stroke-opacity="0.51" stroke-width="8" stroke-linecap="round"/>
<ellipse cx="415" cy="316" rx="88" ry="88" fill="url(#lg)" opacity="0.24" transform="rotate(175 415 316)"/>
<path d="M341.8 358.2A84.5 84.5 0 0 1 335.6 287.1" fill="none" stroke="#fff" stroke-opacity="0.34" stroke-width="7" stroke-linecap="round"/>
<ellipse cx="165" cy="416" rx="88" ry="88" fill="#3c3c3c"/>
<ellipse cx="165" cy="416" rx="88" ry="88" fill="url(#gs)"/>
<ellipse cx="165" cy="416" rx="88" ry="88" fill="url(#lg)" opacity="0.30" transform="rotate(-5 165 416)"/>
<path d="M229.7 361.7A84.5 84.5 0 0 1 238.2 458.2" fill="none" stroke="#fff" stroke-opacity="0.42" stroke-width="7" stroke-linecap="round"/>
<ellipse cx="270" cy="290" rx="84" ry="84" fill="#3e3e3e"/>
<ellipse cx="270" cy="290" rx="84" ry="84" fill="url(#gs)"/>
<ellipse cx="270" cy="290" rx="84" ry="84" fill="url(#lg)" opacity="0.27" transform="rotate(10 270 290)"/>
<path d="M345.6 262.5A80.5 80.5 0 0 1 331.7 341.7" fill="none" stroke="#fff" stroke-opacity="0.38" stroke-width="7" stroke-linecap="round"/>
<ellipse cx="270" cy="290" rx="84" ry="84" fill="url(#lg)" opacity="0.18" transform="rotate(180 270 290)"/>
<path d="M199.9 330.5A81.0 81.0 0 0 1 199.9 249.5" fill="none" stroke="#fff" stroke-opacity="0.26" stroke-width="6" stroke-linecap="round"/>
<ellipse cx="135" cy="230" rx="88" ry="88" fill="#4a4a4a"/>
<ellipse cx="135" cy="230" rx="88" ry="88" fill="url(#gs)"/>
<ellipse cx="135" cy="230" rx="88" ry="88" fill="url(#lg)" opacity="0.42" transform="rotate(185 135 230)"/>
<path d="M70.7 284.0A84.0 84.0 0 0 1 81.0 165.7" fill="none" stroke="#fff" stroke-opacity="0.59" stroke-width="8" stroke-linecap="round"/>
<ellipse cx="135" cy="230" rx="88" ry="88" fill="url(#lg)" opacity="0.18" transform="rotate(15 135 230)"/>
<path d="M218.7 215.2A85.0 85.0 0 0 1 200.1 284.6" fill="none" stroke="#fff" stroke-opacity="0.26" stroke-width="6" stroke-linecap="round"/>
</g>
<polygon points="135,165 166,158 173,216" fill="#fff"/>
<polygon points="352,290 383,282 393,341" fill="#fff"/>
<rect x="400" y="591.5" width="97" height="11" fill="#fff"/>
</g></g>
<clipPath id="cp14"><rect x="349.6" y="288.2" width="77.50" height="91.70"/></clipPath>
<rect x="349.60" y="288.20" width="77.50" height="91.70" fill="#050505" stroke="none" stroke-width="1"/>
<g clip-path="url(#cp14)"><g transform="translate(345 284) scale(0.15637)">
<g filter="url(#fb3)">
<ellipse cx="45" cy="100" rx="46" ry="46" fill="#565656"/>
<ellipse cx="45" cy="100" rx="46" ry="46" fill="url(#gc)"/>
<ellipse cx="512" cy="50" rx="36" ry="36" fill="#666666"/>
<ellipse cx="512" cy="50" rx="36" ry="36" fill="url(#gc)"/>
<ellipse cx="270" cy="572" rx="82" ry="82" fill="#505050"/>
<ellipse cx="270" cy="572" rx="82" ry="82" fill="url(#gc)"/>
<ellipse cx="270" cy="572" rx="82" ry="82" fill="url(#lg)" opacity="0.24" transform="rotate(270 270 572)"/>
<path d="M190.5 572.0A79.5 79.5 0 0 1 349.5 572.0" fill="none" stroke="#fff" stroke-opacity="0.26" stroke-width="5" stroke-linecap="round"/>
<ellipse cx="460" cy="486" rx="76" ry="76" fill="#565656"/>
<ellipse cx="460" cy="486" rx="76" ry="76" fill="url(#gc)"/>
<ellipse cx="460" cy="486" rx="73.5" ry="73.5" fill="none" stroke="#fff" stroke-opacity="0.35" stroke-width="5"/>
<ellipse cx="385" cy="120" rx="90" ry="90" fill="#707070"/>
<ellipse cx="385" cy="120" rx="90" ry="90" fill="url(#gc)"/>
<ellipse cx="385" cy="120" rx="87.5" ry="87.5" fill="none" stroke="#fff" stroke-opacity="0.45" stroke-width="5"/>
<ellipse cx="345" cy="412" rx="86" ry="86" fill="#707070"/>
<ellipse cx="345" cy="412" rx="86" ry="86" fill="url(#gc)"/>
<ellipse cx="345" cy="412" rx="83.5" ry="83.5" fill="none" stroke="#fff" stroke-opacity="0.50" stroke-width="5"/>
<ellipse cx="190" cy="406" rx="86" ry="86" fill="#828282"/>
<ellipse cx="190" cy="406" rx="86" ry="86" fill="url(#gc)"/>
<ellipse cx="190" cy="406" rx="83.5" ry="83.5" fill="none" stroke="#fff" stroke-opacity="0.55" stroke-width="5"/>
<ellipse cx="180" cy="236" rx="90" ry="90" fill="#7a7a7a"/>
<ellipse cx="180" cy="236" rx="90" ry="90" fill="url(#gc)"/>
<ellipse cx="180" cy="236" rx="87.5" ry="87.5" fill="none" stroke="#fff" stroke-opacity="0.50" stroke-width="5"/>
<ellipse cx="345" cy="252" rx="86" ry="86" fill="#383838"/>
<ellipse cx="345" cy="252" rx="86" ry="86" fill="url(#gd)"/>
<ellipse cx="345" cy="252" rx="83.0" ry="83.0" fill="none" stroke="#fff" stroke-opacity="0.85" stroke-width="6"/>
</g>
<path d="M272 190h0M318 180h0M300 240h0M280 238h0M350 318h0M380 230h0" stroke="#fff" stroke-width="7" stroke-linecap="round"/>
<line x1="225" y1="85" x2="247.7" y2="135.6" stroke="#fff" stroke-width="5"/>
<polygon points="232.4,138.1 259.8,125.8 260,163" fill="#fff"/>
<polygon points="308,250 339,240 349,299" fill="#fff"/>
<rect x="400" y="589.5" width="97" height="11" fill="#fff"/>
</g></g>
<line x1="300.40" y1="85.50" x2="384.80" y2="85.50" stroke="#111" stroke-width="1.1" stroke-dasharray="1.3 2.0"/>
<rect x="307.95" y="85.95" width="11.10" height="64.45" fill="#fff" stroke="#000" stroke-width="1.5"/>
<line x1="332.50" y1="116.40" x2="332.50" y2="101.20" stroke="#000" stroke-width="1.0"/>
<line x1="328.90" y1="101.50" x2="336.90" y2="101.50" stroke="#000" stroke-width="1.0"/>
<rect x="327.55" y="117.15" width="10.70" height="33.25" fill="#ca00ea" stroke="#000" stroke-width="1.5"/>
<line x1="352.50" y1="113.90" x2="352.50" y2="100.60" stroke="#000" stroke-width="1.0"/>
<line x1="348.30" y1="100.50" x2="356.30" y2="100.50" stroke="#000" stroke-width="1.0"/>
<rect x="346.75" y="114.65" width="11.10" height="35.75" fill="#fff" stroke="#000" stroke-width="1.5"/>
<line x1="371.50" y1="111.30" x2="371.50" y2="108.30" stroke="#000" stroke-width="1.0"/>
<line x1="367.30" y1="108.50" x2="375.30" y2="108.50" stroke="#000" stroke-width="1.0"/>
<rect x="365.75" y="112.05" width="11.10" height="38.35" fill="#ca00ea" stroke="#000" stroke-width="1.5"/>
<line x1="300.50" y1="52.20" x2="300.50" y2="150.80" stroke="#1a1a1a" stroke-width="0.9"/>
<line x1="300.40" y1="150.50" x2="384.80" y2="150.50" stroke="#1a1a1a" stroke-width="0.9"/>
<line x1="294.40" y1="52.50" x2="300.40" y2="52.50" stroke="#1a1a1a" stroke-width="0.9"/>
<text x="292.80" y="55.90" font-size="9.2" text-anchor="end" fill="#000">150</text>
<line x1="294.40" y1="85.50" x2="300.40" y2="85.50" stroke="#1a1a1a" stroke-width="0.9"/>
<text x="292.80" y="88.50" font-size="9.2" text-anchor="end" fill="#000">100</text>
<line x1="294.40" y1="117.50" x2="300.40" y2="117.50" stroke="#1a1a1a" stroke-width="0.9"/>
<text x="292.80" y="121.00" font-size="9.2" text-anchor="end" fill="#000">50</text>
<line x1="294.40" y1="150.50" x2="300.40" y2="150.50" stroke="#1a1a1a" stroke-width="0.9"/>
<text x="292.80" y="153.70" font-size="9.2" text-anchor="end" fill="#000">0</text>
<text x="318.60" y="161.30" font-size="9.2" text-anchor="middle" fill="#000">C1</text>
<text x="366.00" y="161.30" font-size="9.2" text-anchor="middle" fill="#000">C3</text>
<text x="323.80" y="69.00" font-size="9.4" text-anchor="middle" fill="#000">ns</text>
<text x="362.20" y="69.00" font-size="9.4" text-anchor="middle" fill="#000">ns</text>
<text x="352.60" y="79.80" font-size="7.4" text-anchor="middle" fill="#000">ns</text>
<text x="371.70" y="79.80" font-size="7.4" text-anchor="middle" fill="#000">ns</text>
<line x1="308.80" y1="72.50" x2="339.80" y2="72.50" stroke="#6e6e6e" stroke-width="1.2"/>
<line x1="346.20" y1="72.50" x2="377.40" y2="72.50" stroke="#6e6e6e" stroke-width="1.2"/>
<text x="270.00" y="101.60" font-size="10.0" text-anchor="middle" fill="#000" transform="rotate(-90 270.00 101.60)">Spectrin occupancy (% C1)</text>
<line x1="450.50" y1="82.50" x2="535.00" y2="82.50" stroke="#111" stroke-width="1.1" stroke-dasharray="1.3 2.0"/>
<rect x="458.35" y="84.15" width="10.70" height="64.45" fill="#fff" stroke="#000" stroke-width="1.5"/>
<line x1="483.50" y1="73.60" x2="483.50" y2="72.50" stroke="#000" stroke-width="1.0"/>
<line x1="479.35" y1="72.50" x2="487.35" y2="72.50" stroke="#000" stroke-width="1.0"/>
<rect x="478.05" y="74.35" width="10.60" height="74.25" fill="#ca00ea" stroke="#000" stroke-width="1.5"/>
<line x1="502.50" y1="67.40" x2="502.50" y2="61.80" stroke="#000" stroke-width="1.0"/>
<line x1="498.55" y1="61.50" x2="506.55" y2="61.50" stroke="#000" stroke-width="1.0"/>
<rect x="497.25" y="68.15" width="10.60" height="80.45" fill="#fff" stroke="#000" stroke-width="1.5"/>
<line x1="522.50" y1="60.40" x2="522.50" y2="57.00" stroke="#000" stroke-width="1.0"/>
<line x1="518.20" y1="57.50" x2="526.20" y2="57.50" stroke="#000" stroke-width="1.0"/>
<rect x="516.95" y="61.15" width="10.50" height="87.45" fill="#ca00ea" stroke="#000" stroke-width="1.5"/>
<line x1="450.50" y1="49.40" x2="450.50" y2="149.00" stroke="#1a1a1a" stroke-width="0.9"/>
<line x1="450.50" y1="148.50" x2="535.00" y2="148.50" stroke="#1a1a1a" stroke-width="0.9"/>
<line x1="444.50" y1="49.50" x2="450.50" y2="49.50" stroke="#1a1a1a" stroke-width="0.9"/>
<text x="442.80" y="53.10" font-size="9.2" text-anchor="end" fill="#000">150</text>
<line x1="444.50" y1="82.50" x2="450.50" y2="82.50" stroke="#1a1a1a" stroke-width="0.9"/>
<text x="442.80" y="86.20" font-size="9.2" text-anchor="end" fill="#000">100</text>
<line x1="444.50" y1="115.50" x2="450.50" y2="115.50" stroke="#1a1a1a" stroke-width="0.9"/>
<text x="442.80" y="119.20" font-size="9.2" text-anchor="end" fill="#000">50</text>
<line x1="444.50" y1="148.50" x2="450.50" y2="148.50" stroke="#1a1a1a" stroke-width="0.9"/>
<text x="442.80" y="151.90" font-size="9.2" text-anchor="end" fill="#000">0</text>
<text x="469.20" y="159.70" font-size="9.2" text-anchor="middle" fill="#000">C1</text>
<text x="516.80" y="159.70" font-size="9.2" text-anchor="middle" fill="#000">C3</text>
<line x1="459.30" y1="47.50" x2="491.40" y2="47.50" stroke="#333" stroke-width="1.0"/>
<text x="474.80" y="46.60" font-size="9.4" text-anchor="middle" fill="#000">*</text>
<text x="521.80" y="55.40" font-size="7.4" text-anchor="middle" fill="#000">**</text>
<text x="421.00" y="97.00" font-size="10.0" text-anchor="middle" fill="#000" transform="rotate(-90 421.00 97.00)">Fluo-4 intensity/Hb (% C1)</text>
<line x1="78.50" y1="443.60" x2="78.50" y2="439.20" stroke="#1212ff" stroke-width="1.0"/>
<line x1="74.35" y1="439.50" x2="82.35" y2="439.50" stroke="#1212ff" stroke-width="1.0"/>
<rect x="73.25" y="444.35" width="10.20" height="38.65" fill="#ca00ea" stroke="#1212ff" stroke-width="1.5"/>
<line x1="97.50" y1="491.90" x2="97.50" y2="497.00" stroke="#1212ff" stroke-width="1.0"/>
<line x1="93.60" y1="497.50" x2="101.60" y2="497.50" stroke="#1212ff" stroke-width="1.0"/>
<rect x="92.35" y="483.00" width="10.50" height="8.15" fill="#fff" stroke="#1212ff" stroke-width="1.5"/>
<line x1="117.50" y1="460.00" x2="117.50" y2="443.00" stroke="#1212ff" stroke-width="1.0"/>
<line x1="113.05" y1="443.50" x2="121.05" y2="443.50" stroke="#1212ff" stroke-width="1.0"/>
<rect x="111.95" y="460.75" width="10.20" height="22.25" fill="#ca00ea" stroke="#1212ff" stroke-width="1.5"/>
<line x1="45.80" y1="483.50" x2="130.30" y2="483.50" stroke="#3c3c3c" stroke-width="1.3"/>
<line x1="45.50" y1="423.50" x2="45.50" y2="522.80" stroke="#1a1a1a" stroke-width="0.9"/>
<line x1="45.80" y1="522.50" x2="130.30" y2="522.50" stroke="#1a1a1a" stroke-width="0.9"/>
<line x1="39.80" y1="423.50" x2="45.80" y2="423.50" stroke="#1a1a1a" stroke-width="0.9"/>
<text x="38.40" y="427.20" font-size="9.2" text-anchor="end" fill="#000">75</text>
<line x1="39.80" y1="443.50" x2="45.80" y2="443.50" stroke="#1a1a1a" stroke-width="0.9"/>
<text x="38.40" y="446.80" font-size="9.2" text-anchor="end" fill="#000">50</text>
<line x1="39.80" y1="463.50" x2="45.80" y2="463.50" stroke="#1a1a1a" stroke-width="0.9"/>
<text x="38.40" y="466.60" font-size="9.2" text-anchor="end" fill="#000">25</text>
<line x1="39.80" y1="483.50" x2="45.80" y2="483.50" stroke="#1a1a1a" stroke-width="0.9"/>
<text x="38.40" y="486.30" font-size="9.2" text-anchor="end" fill="#000">0</text>
<line x1="39.80" y1="502.50" x2="45.80" y2="502.50" stroke="#1a1a1a" stroke-width="0.9"/>
<text x="38.40" y="506.00" font-size="9.2" text-anchor="end" fill="#000">-25</text>
<line x1="39.80" y1="522.50" x2="45.80" y2="522.50" stroke="#1a1a1a" stroke-width="0.9"/>
<text x="38.40" y="525.70" font-size="9.2" text-anchor="end" fill="#000">-50</text>
<text x="65.60" y="533.50" font-size="9.2" text-anchor="middle" fill="#000">C1</text>
<text x="108.10" y="533.50" font-size="9.2" text-anchor="middle" fill="#000">C3</text>
<text x="68.20" y="420.60" font-size="9.4" text-anchor="middle" fill="#1212ff">ns</text>
<text x="106.90" y="420.60" font-size="9.4" text-anchor="middle" fill="#1212ff">ns</text>
<text x="97.20" y="432.00" font-size="7.4" text-anchor="middle" fill="#1212ff">ns</text>
<text x="116.50" y="432.00" font-size="7.4" text-anchor="middle" fill="#1212ff">ns</text>
<line x1="54.00" y1="423.50" x2="84.50" y2="423.50" stroke="#6e6e6e" stroke-width="1.2"/>
<line x1="91.10" y1="423.50" x2="122.90" y2="423.50" stroke="#6e6e6e" stroke-width="1.2"/>
<text x="19.20" y="472.20" font-size="10.0" text-anchor="middle" fill="#000" transform="rotate(-90 19.20 472.20)">% of stomatocytes (Δ C1)</text>
<line x1="209.50" y1="488.10" x2="209.50" y2="495.20" stroke="#12e012" stroke-width="1.0"/>
<line x1="205.70" y1="495.50" x2="213.70" y2="495.50" stroke="#12e012" stroke-width="1.0"/>
<rect x="204.45" y="471.50" width="10.50" height="15.85" fill="#ca00ea" stroke="#12e012" stroke-width="1.5"/>
<line x1="229.50" y1="481.20" x2="229.50" y2="487.30" stroke="#12e012" stroke-width="1.0"/>
<line x1="225.40" y1="487.50" x2="233.40" y2="487.50" stroke="#12e012" stroke-width="1.0"/>
<rect x="224.05" y="471.50" width="10.70" height="8.95" fill="#fff" stroke="#12e012" stroke-width="1.5"/>
<line x1="248.50" y1="489.40" x2="248.50" y2="496.20" stroke="#12e012" stroke-width="1.0"/>
<line x1="244.50" y1="496.50" x2="252.50" y2="496.50" stroke="#12e012" stroke-width="1.0"/>
<rect x="243.15" y="471.50" width="10.70" height="17.15" fill="#ca00ea" stroke="#12e012" stroke-width="1.5"/>
<line x1="176.50" y1="471.50" x2="261.50" y2="471.50" stroke="#3c3c3c" stroke-width="1.3"/>
<line x1="176.50" y1="421.50" x2="176.50" y2="521.20" stroke="#1a1a1a" stroke-width="0.9"/>
<line x1="176.50" y1="520.50" x2="261.50" y2="520.50" stroke="#1a1a1a" stroke-width="0.9"/>
<line x1="170.50" y1="421.50" x2="176.50" y2="421.50" stroke="#1a1a1a" stroke-width="0.9"/>
<text x="169.00" y="425.20" font-size="9.2" text-anchor="end" fill="#000">75</text>
<line x1="170.50" y1="438.50" x2="176.50" y2="438.50" stroke="#1a1a1a" stroke-width="0.9"/>
<text x="169.00" y="441.70" font-size="9.2" text-anchor="end" fill="#000">50</text>
<line x1="170.50" y1="455.50" x2="176.50" y2="455.50" stroke="#1a1a1a" stroke-width="0.9"/>
<text x="169.00" y="458.30" font-size="9.2" text-anchor="end" fill="#000">25</text>
<line x1="170.50" y1="471.50" x2="176.50" y2="471.50" stroke="#1a1a1a" stroke-width="0.9"/>
<text x="169.00" y="474.80" font-size="9.2" text-anchor="end" fill="#000">0</text>
<line x1="170.50" y1="488.50" x2="176.50" y2="488.50" stroke="#1a1a1a" stroke-width="0.9"/>
<text x="169.00" y="491.40" font-size="9.2" text-anchor="end" fill="#000">-25</text>
<line x1="170.50" y1="504.50" x2="176.50" y2="504.50" stroke="#1a1a1a" stroke-width="0.9"/>
<text x="169.00" y="507.90" font-size="9.2" text-anchor="end" fill="#000">-50</text>
<line x1="170.50" y1="520.50" x2="176.50" y2="520.50" stroke="#1a1a1a" stroke-width="0.9"/>
<text x="169.00" y="524.10" font-size="9.2" text-anchor="end" fill="#000">-75</text>
<text x="198.60" y="531.90" font-size="9.2" text-anchor="middle" fill="#000">C1</text>
<text x="239.30" y="531.90" font-size="9.2" text-anchor="middle" fill="#000">C3</text>
<text x="199.90" y="421.90" font-size="9.4" text-anchor="middle" fill="#12e012">ns</text>
<text x="238.80" y="421.90" font-size="9.4" text-anchor="middle" fill="#12e012">ns</text>
<text x="229.70" y="433.30" font-size="7.4" text-anchor="middle" fill="#12e012">ns</text>
<text x="248.70" y="433.30" font-size="7.4" text-anchor="middle" fill="#12e012">ns</text>
<line x1="184.10" y1="425.50" x2="215.90" y2="425.50" stroke="#505050" stroke-width="1.0"/>
<line x1="223.30" y1="425.50" x2="254.60" y2="425.50" stroke="#505050" stroke-width="1.0"/>
<text x="149.20" y="474.00" font-size="10.0" text-anchor="middle" fill="#000" transform="rotate(-90 149.20 474.00)">% of discocytes (Δ C1)</text>
<line x1="344.50" y1="493.90" x2="344.50" y2="499.50" stroke="#ff1a1a" stroke-width="1.0"/>
<line x1="340.80" y1="499.50" x2="348.80" y2="499.50" stroke="#ff1a1a" stroke-width="1.0"/>
<rect x="339.45" y="483.00" width="10.70" height="10.15" fill="#ca00ea" stroke="#ff1a1a" stroke-width="1.5"/>
<line x1="364.50" y1="465.70" x2="364.50" y2="453.20" stroke="#ff1a1a" stroke-width="1.0"/>
<line x1="360.15" y1="453.50" x2="368.15" y2="453.50" stroke="#ff1a1a" stroke-width="1.0"/>
<rect x="359.05" y="466.45" width="10.20" height="16.55" fill="#fff" stroke="#ff1a1a" stroke-width="1.5"/>
<line x1="383.50" y1="491.40" x2="383.50" y2="498.80" stroke="#ff1a1a" stroke-width="1.0"/>
<line x1="379.50" y1="498.50" x2="387.50" y2="498.50" stroke="#ff1a1a" stroke-width="1.0"/>
<rect x="378.15" y="483.00" width="10.70" height="7.65" fill="#ca00ea" stroke="#ff1a1a" stroke-width="1.5"/>
<line x1="311.50" y1="483.50" x2="396.50" y2="483.50" stroke="#3c3c3c" stroke-width="1.3"/>
<line x1="311.50" y1="423.50" x2="311.50" y2="522.80" stroke="#1a1a1a" stroke-width="0.9"/>
<line x1="311.50" y1="522.50" x2="396.50" y2="522.50" stroke="#1a1a1a" stroke-width="0.9"/>
<line x1="305.50" y1="423.50" x2="311.50" y2="423.50" stroke="#1a1a1a" stroke-width="0.9"/>
<text x="304.00" y="427.20" font-size="9.2" text-anchor="end" fill="#000">75</text>
<line x1="305.50" y1="443.50" x2="311.50" y2="443.50" stroke="#1a1a1a" stroke-width="0.9"/>
<text x="304.00" y="446.80" font-size="9.2" text-anchor="end" fill="#000">50</text>
<line x1="305.50" y1="463.50" x2="311.50" y2="463.50" stroke="#1a1a1a" stroke-width="0.9"/>
<text x="304.00" y="466.40" font-size="9.2" text-anchor="end" fill="#000">25</text>
<line x1="305.50" y1="483.50" x2="311.50" y2="483.50" stroke="#1a1a1a" stroke-width="0.9"/>
<text x="304.00" y="486.30" font-size="9.2" text-anchor="end" fill="#000">0</text>
<line x1="305.50" y1="502.50" x2="311.50" y2="502.50" stroke="#1a1a1a" stroke-width="0.9"/>
<text x="304.00" y="505.90" font-size="9.2" text-anchor="end" fill="#000">-25</text>
<line x1="305.50" y1="522.50" x2="311.50" y2="522.50" stroke="#1a1a1a" stroke-width="0.9"/>
<text x="304.00" y="525.70" font-size="9.2" text-anchor="end" fill="#000">-50</text>
<text x="335.60" y="533.50" font-size="9.2" text-anchor="middle" fill="#000">C1</text>
<text x="374.80" y="533.50" font-size="9.2" text-anchor="middle" fill="#000">C3</text>
<text x="334.10" y="423.20" font-size="9.4" text-anchor="middle" fill="#ff1a1a">ns</text>
<text x="373.00" y="423.20" font-size="9.4" text-anchor="middle" fill="#ff1a1a">ns</text>
<text x="364.10" y="434.10" font-size="7.4" text-anchor="middle" fill="#ff1a1a">ns</text>
<text x="383.20" y="434.10" font-size="7.4" text-anchor="middle" fill="#ff1a1a">ns</text>
<line x1="318.90" y1="426.50" x2="350.20" y2="426.50" stroke="#505050" stroke-width="1.0"/>
<line x1="357.80" y1="426.50" x2="389.10" y2="426.50" stroke="#505050" stroke-width="1.0"/>
<text x="285.00" y="472.50" font-size="10.0" text-anchor="middle" fill="#000" transform="rotate(-90 285.00 472.50)">% of echinocytes (Δ C1)</text>
<line x1="491.50" y1="485.50" x2="491.50" y2="487.60" stroke="#9a9a10" stroke-width="1.0"/>
<line x1="487.70" y1="487.50" x2="495.70" y2="487.50" stroke="#9a9a10" stroke-width="1.0"/>
<rect x="486.35" y="483.00" width="10.70" height="1.75" fill="#ca00ea" stroke="#9a9a10" stroke-width="1.5"/>
<line x1="511.50" y1="479.20" x2="511.50" y2="477.90" stroke="#9a9a10" stroke-width="1.0"/>
<line x1="507.40" y1="477.50" x2="515.40" y2="477.50" stroke="#9a9a10" stroke-width="1.0"/>
<rect x="506.15" y="479.95" width="10.50" height="3.05" fill="#fff" stroke="#9a9a10" stroke-width="1.5"/>
<line x1="530.50" y1="484.30" x2="530.50" y2="487.30" stroke="#9a9a10" stroke-width="1.0"/>
<line x1="526.50" y1="487.50" x2="534.50" y2="487.50" stroke="#9a9a10" stroke-width="1.0"/>
<rect x="525.25" y="483.00" width="10.50" height="0.55" fill="#ca00ea" stroke="#9a9a10" stroke-width="1.5"/>
<line x1="458.30" y1="483.50" x2="543.60" y2="483.50" stroke="#3c3c3c" stroke-width="1.3"/>
<line x1="458.50" y1="423.50" x2="458.50" y2="522.80" stroke="#1a1a1a" stroke-width="0.9"/>
<line x1="458.30" y1="522.50" x2="543.60" y2="522.50" stroke="#1a1a1a" stroke-width="0.9"/>
<line x1="452.30" y1="423.50" x2="458.30" y2="423.50" stroke="#1a1a1a" stroke-width="0.9"/>
<text x="450.80" y="427.20" font-size="9.2" text-anchor="end" fill="#000">75</text>
<line x1="452.30" y1="443.50" x2="458.30" y2="443.50" stroke="#1a1a1a" stroke-width="0.9"/>
<text x="450.80" y="446.80" font-size="9.2" text-anchor="end" fill="#000">50</text>
<line x1="452.30" y1="463.50" x2="458.30" y2="463.50" stroke="#1a1a1a" stroke-width="0.9"/>
<text x="450.80" y="466.40" font-size="9.2" text-anchor="end" fill="#000">25</text>
<line x1="452.30" y1="483.50" x2="458.30" y2="483.50" stroke="#1a1a1a" stroke-width="0.9"/>
<text x="450.80" y="486.30" font-size="9.2" text-anchor="end" fill="#000">0</text>
<line x1="452.30" y1="502.50" x2="458.30" y2="502.50" stroke="#1a1a1a" stroke-width="0.9"/>
<text x="450.80" y="505.90" font-size="9.2" text-anchor="end" fill="#000">-25</text>
<line x1="452.30" y1="522.50" x2="458.30" y2="522.50" stroke="#1a1a1a" stroke-width="0.9"/>
<text x="450.80" y="525.70" font-size="9.2" text-anchor="end" fill="#000">-50</text>
<text x="481.20" y="533.50" font-size="9.2" text-anchor="middle" fill="#000">C1</text>
<text x="520.70" y="533.50" font-size="9.2" text-anchor="middle" fill="#000">C3</text>
<text x="481.80" y="423.20" font-size="9.4" text-anchor="middle" fill="#9a9a10">ns</text>
<text x="520.70" y="423.20" font-size="9.4" text-anchor="middle" fill="#9a9a10">ns</text>
<text x="511.00" y="434.00" font-size="7.4" text-anchor="middle" fill="#9a9a10">ns</text>
<text x="530.40" y="434.00" font-size="7.4" text-anchor="middle" fill="#9a9a10">ns</text>
<line x1="466.00" y1="426.50" x2="497.30" y2="426.50" stroke="#505050" stroke-width="1.0"/>
<line x1="504.70" y1="426.50" x2="536.00" y2="426.50" stroke="#505050" stroke-width="1.0"/>
<text x="431.80" y="472.50" font-size="10.0" text-anchor="middle" fill="#000" transform="rotate(-90 431.80 472.50)">% of spherocytes (Δ C1)</text>
<line x1="46.60" y1="633.50" x2="130.30" y2="633.50" stroke="#111" stroke-width="1.1" stroke-dasharray="1.3 2.0"/>
<rect x="54.15" y="634.15" width="10.50" height="48.35" fill="#fff" stroke="#000" stroke-width="1.5"/>
<line x1="78.50" y1="636.20" x2="78.50" y2="628.30" stroke="#000" stroke-width="1.0"/>
<line x1="74.85" y1="628.50" x2="82.85" y2="628.50" stroke="#000" stroke-width="1.0"/>
<rect x="73.75" y="636.95" width="10.20" height="45.55" fill="#ca00ea" stroke="#000" stroke-width="1.5"/>
<line x1="98.50" y1="622.70" x2="98.50" y2="609.40" stroke="#000" stroke-width="1.0"/>
<line x1="94.20" y1="609.50" x2="102.20" y2="609.50" stroke="#000" stroke-width="1.0"/>
<rect x="92.85" y="623.45" width="10.70" height="59.05" fill="#fff" stroke="#000" stroke-width="1.5"/>
<line x1="117.50" y1="627.30" x2="117.50" y2="620.70" stroke="#000" stroke-width="1.0"/>
<line x1="113.45" y1="620.50" x2="121.45" y2="620.50" stroke="#000" stroke-width="1.0"/>
<rect x="112.25" y="628.05" width="10.40" height="54.45" fill="#ca00ea" stroke="#000" stroke-width="1.5"/>
<line x1="46.50" y1="583.50" x2="46.50" y2="682.90" stroke="#1a1a1a" stroke-width="0.9"/>
<line x1="46.60" y1="682.50" x2="130.30" y2="682.50" stroke="#1a1a1a" stroke-width="0.9"/>
<line x1="40.60" y1="583.50" x2="46.60" y2="583.50" stroke="#1a1a1a" stroke-width="0.9"/>
<text x="38.40" y="587.20" font-size="9.2" text-anchor="end" fill="#000">200</text>
<line x1="40.60" y1="608.50" x2="46.60" y2="608.50" stroke="#1a1a1a" stroke-width="0.9"/>
<text x="38.40" y="611.90" font-size="9.2" text-anchor="end" fill="#000">150</text>
<line x1="40.60" y1="633.50" x2="46.60" y2="633.50" stroke="#1a1a1a" stroke-width="0.9"/>
<text x="38.40" y="636.50" font-size="9.2" text-anchor="end" fill="#000">100</text>
<line x1="40.60" y1="657.50" x2="46.60" y2="657.50" stroke="#1a1a1a" stroke-width="0.9"/>
<text x="38.40" y="661.10" font-size="9.2" text-anchor="end" fill="#000">50</text>
<line x1="40.60" y1="682.50" x2="46.60" y2="682.50" stroke="#1a1a1a" stroke-width="0.9"/>
<text x="38.40" y="685.80" font-size="9.2" text-anchor="end" fill="#000">0</text>
<text x="63.60" y="694.00" font-size="9.2" text-anchor="middle" fill="#000">C1</text>
<text x="112.00" y="694.00" font-size="9.2" text-anchor="middle" fill="#000">C3</text>
<text x="69.20" y="584.40" font-size="9.4" text-anchor="middle" fill="#000">ns</text>
<text x="108.10" y="584.40" font-size="9.4" text-anchor="middle" fill="#000">ns</text>
<text x="98.50" y="595.10" font-size="7.4" text-anchor="middle" fill="#000">ns</text>
<text x="117.60" y="595.10" font-size="7.4" text-anchor="middle" fill="#000">ns</text>
<line x1="54.70" y1="587.50" x2="86.50" y2="587.50" stroke="#444" stroke-width="0.9"/>
<line x1="92.40" y1="587.50" x2="123.40" y2="587.50" stroke="#444" stroke-width="0.9"/>
<text x="17.40" y="633.50" font-size="9.8" text-anchor="middle" fill="#000" transform="rotate(-90 17.40 633.50)">Piezo1 MFI (% C1)</text>
<line x1="183.90" y1="618.50" x2="268.00" y2="618.50" stroke="#111" stroke-width="1.1" stroke-dasharray="1.3 2.0"/>
<rect x="191.85" y="619.05" width="10.70" height="64.65" fill="#fff" stroke="#000" stroke-width="1.5"/>
<line x1="216.50" y1="629.50" x2="216.50" y2="625.90" stroke="#000" stroke-width="1.0"/>
<line x1="212.55" y1="625.50" x2="220.55" y2="625.50" stroke="#000" stroke-width="1.0"/>
<rect x="211.45" y="630.25" width="10.20" height="53.45" fill="#ca00ea" stroke="#000" stroke-width="1.5"/>
<line x1="235.50" y1="602.80" x2="235.50" y2="598.40" stroke="#000" stroke-width="1.0"/>
<line x1="231.85" y1="598.50" x2="239.85" y2="598.50" stroke="#000" stroke-width="1.0"/>
<rect x="230.45" y="603.55" width="10.80" height="80.15" fill="#fff" stroke="#000" stroke-width="1.5"/>
<line x1="255.50" y1="599.70" x2="255.50" y2="590.80" stroke="#000" stroke-width="1.0"/>
<line x1="251.05" y1="590.50" x2="259.05" y2="590.50" stroke="#000" stroke-width="1.0"/>
<rect x="249.85" y="600.45" width="10.40" height="83.25" fill="#ca00ea" stroke="#000" stroke-width="1.5"/>
<line x1="183.50" y1="584.80" x2="183.50" y2="684.10" stroke="#1a1a1a" stroke-width="0.9"/>
<line x1="183.90" y1="683.50" x2="268.00" y2="683.50" stroke="#1a1a1a" stroke-width="0.9"/>
<line x1="177.90" y1="585.50" x2="183.90" y2="585.50" stroke="#1a1a1a" stroke-width="0.9"/>
<text x="176.40" y="588.50" font-size="9.2" text-anchor="end" fill="#000">150</text>
<line x1="177.90" y1="618.50" x2="183.90" y2="618.50" stroke="#1a1a1a" stroke-width="0.9"/>
<text x="176.40" y="621.40" font-size="9.2" text-anchor="end" fill="#000">100</text>
<line x1="177.90" y1="650.50" x2="183.90" y2="650.50" stroke="#1a1a1a" stroke-width="0.9"/>
<text x="176.40" y="654.10" font-size="9.2" text-anchor="end" fill="#000">50</text>
<line x1="177.90" y1="683.50" x2="183.90" y2="683.50" stroke="#1a1a1a" stroke-width="0.9"/>
<text x="176.40" y="687.00" font-size="9.2" text-anchor="end" fill="#000">0</text>
<text x="205.80" y="694.00" font-size="9.2" text-anchor="middle" fill="#000">C1</text>
<text x="245.80" y="694.00" font-size="9.2" text-anchor="middle" fill="#000">C3</text>
<text x="207.10" y="581.10" font-size="9.4" text-anchor="middle" fill="#000">ns</text>
<text x="245.80" y="581.10" font-size="9.4" text-anchor="middle" fill="#000">ns</text>
<text x="236.40" y="590.80" font-size="7.4" text-anchor="middle" fill="#000">ns</text>
<text x="255.40" y="590.80" font-size="7.4" text-anchor="middle" fill="#000">ns</text>
<line x1="192.30" y1="583.50" x2="223.60" y2="583.50" stroke="#444" stroke-width="0.9"/>
<line x1="229.70" y1="583.50" x2="261.60" y2="583.50" stroke="#444" stroke-width="0.9"/>
<text x="143.00" y="634.60" font-size="9.5" text-anchor="middle" fill="#000" transform="rotate(-90 143.00 634.60)">Piezo1 fluo/</text>
<text x="155.00" y="633.80" font-size="9.8" text-anchor="middle" fill="#000" transform="rotate(-90 155.00 633.80)">rim region (% C1)</text>
<line x1="320.50" y1="616.50" x2="405.00" y2="616.50" stroke="#111" stroke-width="1.1" stroke-dasharray="1.3 2.0"/>
<rect x="328.85" y="617.65" width="11.00" height="64.95" fill="#fff" stroke="#000" stroke-width="1.5"/>
<line x1="353.50" y1="641.30" x2="353.50" y2="636.70" stroke="#000" stroke-width="1.0"/>
<line x1="349.00" y1="636.50" x2="357.00" y2="636.50" stroke="#000" stroke-width="1.0"/>
<rect x="347.65" y="642.05" width="10.70" height="40.55" fill="#ca00ea" stroke="#000" stroke-width="1.5"/>
<line x1="372.50" y1="614.50" x2="372.50" y2="606.60" stroke="#000" stroke-width="1.0"/>
<line x1="368.75" y1="606.50" x2="376.75" y2="606.50" stroke="#000" stroke-width="1.0"/>
<rect x="367.55" y="615.25" width="10.40" height="67.35" fill="#fff" stroke="#000" stroke-width="1.5"/>
<line x1="392.50" y1="626.40" x2="392.50" y2="620.00" stroke="#000" stroke-width="1.0"/>
<line x1="388.00" y1="620.50" x2="396.00" y2="620.50" stroke="#000" stroke-width="1.0"/>
<rect x="386.65" y="627.15" width="10.70" height="55.45" fill="#ca00ea" stroke="#000" stroke-width="1.5"/>
<line x1="320.50" y1="583.30" x2="320.50" y2="683.00" stroke="#1a1a1a" stroke-width="0.9"/>
<line x1="320.50" y1="682.50" x2="405.00" y2="682.50" stroke="#1a1a1a" stroke-width="0.9"/>
<line x1="314.50" y1="583.50" x2="320.50" y2="583.50" stroke="#1a1a1a" stroke-width="0.9"/>
<text x="313.00" y="587.00" font-size="9.2" text-anchor="end" fill="#000">150</text>
<line x1="314.50" y1="616.50" x2="320.50" y2="616.50" stroke="#1a1a1a" stroke-width="0.9"/>
<text x="313.00" y="620.00" font-size="9.2" text-anchor="end" fill="#000">100</text>
<line x1="314.50" y1="649.50" x2="320.50" y2="649.50" stroke="#1a1a1a" stroke-width="0.9"/>
<text x="313.00" y="652.90" font-size="9.2" text-anchor="end" fill="#000">50</text>
<line x1="314.50" y1="682.50" x2="320.50" y2="682.50" stroke="#1a1a1a" stroke-width="0.9"/>
<text x="313.00" y="685.90" font-size="9.2" text-anchor="end" fill="#000">0</text>
<text x="340.00" y="694.00" font-size="9.2" text-anchor="middle" fill="#000">C1</text>
<text x="387.10" y="694.00" font-size="9.2" text-anchor="middle" fill="#000">C3</text>
<text x="343.90" y="582.40" font-size="9.4" text-anchor="middle" fill="#000">ns</text>
<text x="382.60" y="582.40" font-size="9.4" text-anchor="middle" fill="#000">ns</text>
<text x="373.10" y="593.30" font-size="7.4" text-anchor="middle" fill="#000">ns</text>
<text x="392.20" y="593.30" font-size="7.4" text-anchor="middle" fill="#000">ns</text>
<line x1="329.40" y1="585.50" x2="360.40" y2="585.50" stroke="#444" stroke-width="0.9"/>
<line x1="366.80" y1="585.50" x2="398.10" y2="585.50" stroke="#444" stroke-width="0.9"/>
<text x="280.80" y="634.40" font-size="9.5" text-anchor="middle" fill="#000" transform="rotate(-90 280.80 634.40)">Piezo1 fluo/</text>
<text x="291.80" y="633.00" font-size="9.8" text-anchor="middle" fill="#000" transform="rotate(-90 291.80 633.00)">dimple region (% C1)</text>
<line x1="458.60" y1="659.50" x2="541.80" y2="659.50" stroke="#111" stroke-width="1.1" stroke-dasharray="1.3 2.0"/>
<rect x="466.15" y="660.45" width="8.70" height="23.55" fill="#fff" stroke="#000" stroke-width="1.5"/>
<line x1="486.50" y1="662.40" x2="486.50" y2="655.00" stroke="#000" stroke-width="1.0"/>
<line x1="482.50" y1="655.50" x2="490.40" y2="655.50" stroke="#000" stroke-width="1.0"/>
<rect x="482.05" y="663.15" width="8.80" height="20.85" fill="#ca00ea" stroke="#000" stroke-width="1.5"/>
<line x1="502.50" y1="675.50" x2="502.50" y2="671.40" stroke="#000" stroke-width="1.0"/>
<line x1="498.60" y1="671.50" x2="506.10" y2="671.50" stroke="#000" stroke-width="1.0"/>
<rect x="498.15" y="676.25" width="8.40" height="7.75" fill="#ca00ea" stroke="#000" stroke-width="1.5"/>
<line x1="518.50" y1="679.00" x2="518.50" y2="677.40" stroke="#000" stroke-width="1.0"/>
<line x1="514.40" y1="677.50" x2="522.10" y2="677.50" stroke="#000" stroke-width="1.0"/>
<rect x="513.95" y="679.75" width="8.60" height="4.25" fill="#ca00ea" stroke="#000" stroke-width="1.5"/>
<line x1="533.50" y1="605.50" x2="533.50" y2="592.70" stroke="#000" stroke-width="1.0"/>
<line x1="529.80" y1="592.50" x2="537.80" y2="592.50" stroke="#000" stroke-width="1.0"/>
<rect x="529.35" y="606.25" width="8.90" height="77.75" fill="#ca00ea" stroke="#000" stroke-width="1.5"/>
<line x1="458.50" y1="585.50" x2="458.50" y2="684.40" stroke="#1a1a1a" stroke-width="0.9"/>
<line x1="458.60" y1="684.50" x2="541.80" y2="684.50" stroke="#1a1a1a" stroke-width="0.9"/>
<line x1="452.60" y1="585.50" x2="458.60" y2="585.50" stroke="#1a1a1a" stroke-width="0.9"/>
<text x="451.40" y="589.20" font-size="9.2" text-anchor="end" fill="#000">400</text>
<line x1="452.60" y1="610.50" x2="458.60" y2="610.50" stroke="#1a1a1a" stroke-width="0.9"/>
<text x="451.40" y="613.70" font-size="9.2" text-anchor="end" fill="#000">300</text>
<line x1="452.60" y1="634.50" x2="458.60" y2="634.50" stroke="#1a1a1a" stroke-width="0.9"/>
<text x="451.40" y="637.90" font-size="9.2" text-anchor="end" fill="#000">200</text>
<line x1="452.60" y1="659.50" x2="458.60" y2="659.50" stroke="#1a1a1a" stroke-width="0.9"/>
<text x="451.40" y="662.70" font-size="9.2" text-anchor="end" fill="#000">100</text>
<line x1="452.60" y1="684.50" x2="458.60" y2="684.50" stroke="#1a1a1a" stroke-width="0.9"/>
<text x="451.40" y="687.30" font-size="9.2" text-anchor="end" fill="#000">0</text>
<text x="496.00" y="694.20" font-size="9.2" text-anchor="middle" fill="#000">C1</text>
<text x="485.40" y="590.20" font-size="9.4" text-anchor="middle" fill="#000">ns</text>
<text x="501.40" y="590.20" font-size="9.4" text-anchor="middle" fill="#000">ns</text>
<text x="517.30" y="590.20" font-size="9.4" text-anchor="middle" fill="#000">ns</text>
<text x="533.10" y="590.20" font-size="9.4" text-anchor="middle" fill="#000">ns</text>
<text x="488.90" y="653.60" font-size="7.0" text-anchor="start" fill="#000" transform="rotate(-90 488.90 653.60)">GM1</text>
<text x="504.80" y="654.20" font-size="7.0" text-anchor="start" fill="#000" transform="rotate(-90 504.80 654.20)">Chol HC</text>
<text x="520.60" y="654.20" font-size="7.0" text-anchor="start" fill="#000" transform="rotate(-90 520.60 654.20)">Chol LC</text>
<text x="536.10" y="653.00" font-size="7.0" text-anchor="start" fill="#fff" transform="rotate(-90 536.10 653.00)">SM</text>
<text x="419.00" y="635.50" font-size="9.8" text-anchor="middle" fill="#000" transform="rotate(-90 419.00 635.50)">Lipid domains/</text>
<text x="430.60" y="635.60" font-size="9.6" text-anchor="middle" fill="#000" transform="rotate(-90 430.60 635.60)">hemi-RBC area (% C1)</text>
</svg>
</body></html>
